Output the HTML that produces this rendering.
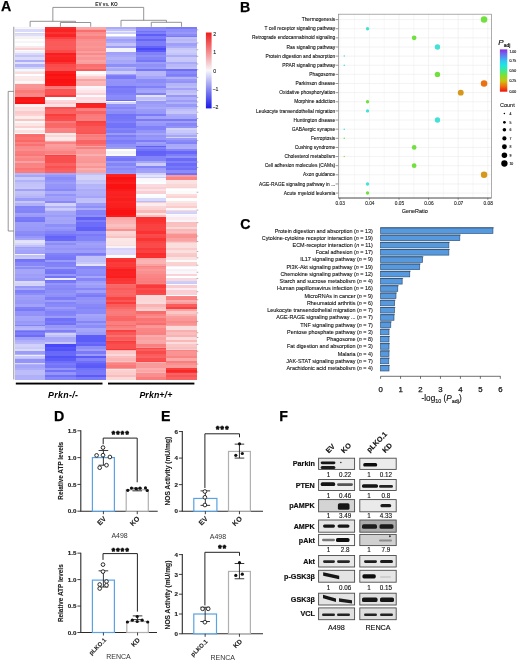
<!DOCTYPE html>
<html><head><meta charset="utf-8"><title>Figure</title>
<style>html,body{margin:0;padding:0;background:#fff;}body{width:520px;height:663px;overflow:hidden;}svg{display:block;filter:blur(0.3px);}</style>
</head><body><svg width="520" height="663" viewBox="0 0 520 663" font-family="'Liberation Sans', Arial, Helvetica, sans-serif"><g shape-rendering="crispEdges"><rect x="15.00" y="26.80" width="30.33" height="1.25" fill="rgb(246,246,250)"/><rect x="15.00" y="28.00" width="30.33" height="1.20" fill="rgb(249,249,250)"/><rect x="15.00" y="29.15" width="30.33" height="2.40" fill="rgb(218,218,250)"/><rect x="15.00" y="31.50" width="30.33" height="1.55" fill="rgb(254,254,250)"/><rect x="15.00" y="33.00" width="30.33" height="0.90" fill="rgb(212,212,249)"/><rect x="15.00" y="33.85" width="30.33" height="2.40" fill="rgb(222,222,249)"/><rect x="15.00" y="36.21" width="30.33" height="0.44" fill="rgb(241,241,249)"/><rect x="15.00" y="36.60" width="30.33" height="2.01" fill="rgb(250,239,241)"/><rect x="15.00" y="38.56" width="30.33" height="2.40" fill="rgb(250,255,255)"/><rect x="15.00" y="40.91" width="30.33" height="2.40" fill="rgb(250,244,246)"/><rect x="15.00" y="43.26" width="30.33" height="2.29" fill="rgb(250,255,255)"/><rect x="15.00" y="45.50" width="30.33" height="0.16" fill="rgb(250,253,255)"/><rect x="15.00" y="45.61" width="30.33" height="2.40" fill="rgb(250,232,234)"/><rect x="15.00" y="47.96" width="30.33" height="2.40" fill="rgb(250,207,209)"/><rect x="15.00" y="50.31" width="30.33" height="0.54" fill="rgb(250,251,253)"/><rect x="15.00" y="50.80" width="30.33" height="1.91" fill="rgb(241,241,249)"/><rect x="15.00" y="52.66" width="30.33" height="2.40" fill="rgb(217,217,249)"/><rect x="15.00" y="55.02" width="30.33" height="2.40" fill="rgb(197,197,249)"/><rect x="15.00" y="57.37" width="30.33" height="2.28" fill="rgb(220,220,249)"/><rect x="15.00" y="59.60" width="30.33" height="0.17" fill="rgb(205,205,249)"/><rect x="15.00" y="59.72" width="30.33" height="2.40" fill="rgb(172,172,249)"/><rect x="15.00" y="62.07" width="30.33" height="2.40" fill="rgb(225,225,249)"/><rect x="15.00" y="64.42" width="30.33" height="2.40" fill="rgb(179,179,249)"/><rect x="15.00" y="66.77" width="30.33" height="2.40" fill="rgb(211,211,249)"/><rect x="15.00" y="69.12" width="30.33" height="0.33" fill="rgb(220,220,249)"/><rect x="15.00" y="69.40" width="30.33" height="2.13" fill="rgb(248,248,249)"/><rect x="15.00" y="71.48" width="30.33" height="0.57" fill="rgb(236,236,249)"/><rect x="15.00" y="72.00" width="30.33" height="1.88" fill="rgb(252,219,219)"/><rect x="15.00" y="73.83" width="30.33" height="2.40" fill="rgb(252,255,255)"/><rect x="15.00" y="76.18" width="30.33" height="2.40" fill="rgb(252,234,234)"/><rect x="15.00" y="78.53" width="30.33" height="2.40" fill="rgb(252,231,231)"/><rect x="15.00" y="80.88" width="30.33" height="2.40" fill="rgb(252,248,248)"/><rect x="15.00" y="83.23" width="30.33" height="1.22" fill="rgb(252,236,236)"/><rect x="15.00" y="84.40" width="30.33" height="1.23" fill="rgb(250,149,149)"/><rect x="15.00" y="85.58" width="30.33" height="2.40" fill="rgb(250,149,149)"/><rect x="15.00" y="87.93" width="30.33" height="2.40" fill="rgb(250,143,143)"/><rect x="15.00" y="90.29" width="30.33" height="2.40" fill="rgb(250,121,121)"/><rect x="15.00" y="92.64" width="30.33" height="2.40" fill="rgb(250,133,133)"/><rect x="15.00" y="94.99" width="30.33" height="1.66" fill="rgb(250,138,138)"/><rect x="15.00" y="96.60" width="30.33" height="0.79" fill="rgb(250,17,17)"/><rect x="15.00" y="97.34" width="30.33" height="2.40" fill="rgb(250,21,21)"/><rect x="15.00" y="99.69" width="30.33" height="2.40" fill="rgb(250,25,25)"/><rect x="15.00" y="102.04" width="30.33" height="1.71" fill="rgb(250,17,17)"/><rect x="15.00" y="103.70" width="30.33" height="0.74" fill="rgb(252,212,212)"/><rect x="15.00" y="104.39" width="30.33" height="2.40" fill="rgb(252,240,240)"/><rect x="15.00" y="106.75" width="30.33" height="2.40" fill="rgb(252,220,220)"/><rect x="15.00" y="109.10" width="30.33" height="2.40" fill="rgb(252,223,223)"/><rect x="15.00" y="111.45" width="30.33" height="2.40" fill="rgb(252,202,202)"/><rect x="15.00" y="113.80" width="30.33" height="2.40" fill="rgb(252,210,210)"/><rect x="15.00" y="116.15" width="30.33" height="2.40" fill="rgb(252,237,237)"/><rect x="15.00" y="118.50" width="30.33" height="2.40" fill="rgb(252,195,195)"/><rect x="15.00" y="120.85" width="30.33" height="2.40" fill="rgb(252,248,248)"/><rect x="15.00" y="123.20" width="30.33" height="2.40" fill="rgb(252,230,230)"/><rect x="15.00" y="125.56" width="30.33" height="2.40" fill="rgb(252,209,209)"/><rect x="15.00" y="127.91" width="30.33" height="2.40" fill="rgb(252,246,246)"/><rect x="15.00" y="130.26" width="30.33" height="2.40" fill="rgb(252,225,225)"/><rect x="15.00" y="132.61" width="30.33" height="1.24" fill="rgb(252,253,253)"/><rect x="15.00" y="133.80" width="30.33" height="1.21" fill="rgb(250,112,112)"/><rect x="15.00" y="134.96" width="30.33" height="2.40" fill="rgb(250,108,108)"/><rect x="15.00" y="137.31" width="30.33" height="2.40" fill="rgb(250,116,116)"/><rect x="15.00" y="139.66" width="30.33" height="2.40" fill="rgb(250,103,103)"/><rect x="15.00" y="142.02" width="30.33" height="2.40" fill="rgb(250,128,128)"/><rect x="15.00" y="144.37" width="30.33" height="1.68" fill="rgb(250,111,111)"/><rect x="15.00" y="146.00" width="30.33" height="0.77" fill="rgb(250,135,135)"/><rect x="15.00" y="146.72" width="30.33" height="2.40" fill="rgb(250,136,136)"/><rect x="15.00" y="149.07" width="30.33" height="2.40" fill="rgb(250,142,142)"/><rect x="15.00" y="151.42" width="30.33" height="2.40" fill="rgb(250,124,124)"/><rect x="15.00" y="153.77" width="30.33" height="2.40" fill="rgb(250,119,119)"/><rect x="15.00" y="156.12" width="30.33" height="2.40" fill="rgb(250,141,141)"/><rect x="15.00" y="158.47" width="30.33" height="2.40" fill="rgb(250,132,132)"/><rect x="15.00" y="160.83" width="30.33" height="2.40" fill="rgb(250,160,160)"/><rect x="15.00" y="163.18" width="30.33" height="2.40" fill="rgb(250,130,130)"/><rect x="15.00" y="165.53" width="30.33" height="2.40" fill="rgb(250,133,133)"/><rect x="15.00" y="167.88" width="30.33" height="2.40" fill="rgb(250,116,116)"/><rect x="15.00" y="170.23" width="30.33" height="2.40" fill="rgb(250,124,124)"/><rect x="15.00" y="172.58" width="30.33" height="0.87" fill="rgb(250,150,150)"/><rect x="15.00" y="173.40" width="30.33" height="1.58" fill="rgb(181,181,249)"/><rect x="15.00" y="174.93" width="30.33" height="2.40" fill="rgb(166,166,249)"/><rect x="15.00" y="177.29" width="30.33" height="2.40" fill="rgb(200,200,249)"/><rect x="15.00" y="179.64" width="30.33" height="2.40" fill="rgb(177,177,249)"/><rect x="15.00" y="181.99" width="30.33" height="2.40" fill="rgb(192,192,249)"/><rect x="15.00" y="184.34" width="30.33" height="2.40" fill="rgb(195,195,249)"/><rect x="15.00" y="186.69" width="30.33" height="2.40" fill="rgb(198,198,249)"/><rect x="15.00" y="189.04" width="30.33" height="2.40" fill="rgb(160,160,249)"/><rect x="15.00" y="191.39" width="30.33" height="2.40" fill="rgb(194,194,249)"/><rect x="15.00" y="193.74" width="30.33" height="2.40" fill="rgb(188,188,249)"/><rect x="15.00" y="196.10" width="30.33" height="2.40" fill="rgb(180,180,249)"/><rect x="15.00" y="198.45" width="30.33" height="2.40" fill="rgb(155,155,249)"/><rect x="15.00" y="200.80" width="30.33" height="2.40" fill="rgb(197,197,249)"/><rect x="15.00" y="203.15" width="30.33" height="2.40" fill="rgb(177,177,249)"/><rect x="15.00" y="205.50" width="30.33" height="0.55" fill="rgb(172,172,249)"/><rect x="15.00" y="206.00" width="30.33" height="1.90" fill="rgb(131,131,249)"/><rect x="15.00" y="207.85" width="30.33" height="2.40" fill="rgb(134,134,249)"/><rect x="15.00" y="210.20" width="30.33" height="2.40" fill="rgb(132,132,249)"/><rect x="15.00" y="212.56" width="30.33" height="2.40" fill="rgb(160,160,249)"/><rect x="15.00" y="214.91" width="30.33" height="1.74" fill="rgb(154,154,249)"/><rect x="15.00" y="216.60" width="30.33" height="0.71" fill="rgb(146,146,249)"/><rect x="15.00" y="217.26" width="30.33" height="2.40" fill="rgb(121,121,249)"/><rect x="15.00" y="219.61" width="30.33" height="2.40" fill="rgb(118,118,249)"/><rect x="15.00" y="221.96" width="30.33" height="2.40" fill="rgb(156,156,249)"/><rect x="15.00" y="224.31" width="30.33" height="2.40" fill="rgb(155,155,249)"/><rect x="15.00" y="226.66" width="30.33" height="2.40" fill="rgb(152,152,249)"/><rect x="15.00" y="229.01" width="30.33" height="2.40" fill="rgb(152,152,249)"/><rect x="15.00" y="231.37" width="30.33" height="2.40" fill="rgb(140,140,249)"/><rect x="15.00" y="233.72" width="30.33" height="2.40" fill="rgb(135,135,249)"/><rect x="15.00" y="236.07" width="30.33" height="2.40" fill="rgb(151,151,249)"/><rect x="15.00" y="238.42" width="30.33" height="1.23" fill="rgb(163,163,249)"/><rect x="15.00" y="239.60" width="30.33" height="1.22" fill="rgb(224,224,250)"/><rect x="15.00" y="240.77" width="30.33" height="2.40" fill="rgb(227,227,250)"/><rect x="15.00" y="243.12" width="30.33" height="2.40" fill="rgb(215,215,250)"/><rect x="15.00" y="245.47" width="30.33" height="1.28" fill="rgb(192,192,250)"/><rect x="15.00" y="246.70" width="30.33" height="1.18" fill="rgb(160,160,249)"/><rect x="15.00" y="247.83" width="30.33" height="2.40" fill="rgb(169,169,249)"/><rect x="15.00" y="250.18" width="30.33" height="2.40" fill="rgb(163,163,249)"/><rect x="15.00" y="252.53" width="30.33" height="1.32" fill="rgb(160,160,249)"/><rect x="15.00" y="253.80" width="30.33" height="1.13" fill="rgb(241,241,250)"/><rect x="15.00" y="254.88" width="30.33" height="2.40" fill="rgb(191,191,250)"/><rect x="15.00" y="257.23" width="30.33" height="1.82" fill="rgb(198,198,250)"/><rect x="15.00" y="259.00" width="30.33" height="0.63" fill="rgb(113,113,249)"/><rect x="15.00" y="259.58" width="30.33" height="2.40" fill="rgb(116,116,249)"/><rect x="15.00" y="261.93" width="30.33" height="2.40" fill="rgb(134,134,249)"/><rect x="15.00" y="264.28" width="30.33" height="1.77" fill="rgb(134,134,249)"/><rect x="15.00" y="266.00" width="30.33" height="0.69" fill="rgb(163,163,249)"/><rect x="15.00" y="266.64" width="30.33" height="2.40" fill="rgb(138,138,249)"/><rect x="15.00" y="268.99" width="30.33" height="2.40" fill="rgb(165,165,249)"/><rect x="15.00" y="271.34" width="30.33" height="2.40" fill="rgb(165,165,249)"/><rect x="15.00" y="273.69" width="30.33" height="2.40" fill="rgb(158,158,249)"/><rect x="15.00" y="276.04" width="30.33" height="2.40" fill="rgb(161,161,249)"/><rect x="15.00" y="278.39" width="30.33" height="2.40" fill="rgb(152,152,249)"/><rect x="15.00" y="280.74" width="30.33" height="0.31" fill="rgb(166,166,249)"/><rect x="15.00" y="281.00" width="30.33" height="2.15" fill="rgb(217,217,249)"/><rect x="15.00" y="283.10" width="30.33" height="2.40" fill="rgb(209,209,249)"/><rect x="15.00" y="285.45" width="30.33" height="0.10" fill="rgb(212,212,249)"/><rect x="15.00" y="285.50" width="30.33" height="2.35" fill="rgb(151,151,249)"/><rect x="15.00" y="287.80" width="30.33" height="2.40" fill="rgb(167,167,249)"/><rect x="15.00" y="290.15" width="30.33" height="2.40" fill="rgb(127,127,249)"/><rect x="15.00" y="292.50" width="30.33" height="2.40" fill="rgb(139,139,249)"/><rect x="15.00" y="294.85" width="30.33" height="2.40" fill="rgb(161,161,249)"/><rect x="15.00" y="297.20" width="30.33" height="2.40" fill="rgb(156,156,249)"/><rect x="15.00" y="299.55" width="30.33" height="2.40" fill="rgb(152,152,249)"/><rect x="15.00" y="301.91" width="30.33" height="2.40" fill="rgb(151,151,249)"/><rect x="15.00" y="304.26" width="30.33" height="2.40" fill="rgb(162,162,249)"/><rect x="15.00" y="306.61" width="30.33" height="2.40" fill="rgb(128,128,249)"/><rect x="15.00" y="308.96" width="30.33" height="2.40" fill="rgb(121,121,249)"/><rect x="15.00" y="311.31" width="30.33" height="2.40" fill="rgb(146,146,249)"/><rect x="15.00" y="313.66" width="30.33" height="2.40" fill="rgb(145,145,249)"/><rect x="15.00" y="316.01" width="30.33" height="2.40" fill="rgb(164,164,249)"/><rect x="15.00" y="318.37" width="30.33" height="2.40" fill="rgb(163,163,249)"/><rect x="15.00" y="320.72" width="30.33" height="2.40" fill="rgb(152,152,249)"/><rect x="15.00" y="323.07" width="30.33" height="2.40" fill="rgb(156,156,249)"/><rect x="15.00" y="325.42" width="30.33" height="0.63" fill="rgb(129,129,249)"/><rect x="15.00" y="326.00" width="30.33" height="1.82" fill="rgb(177,177,249)"/><rect x="15.00" y="327.77" width="30.33" height="2.40" fill="rgb(183,183,249)"/><rect x="15.00" y="330.12" width="30.33" height="1.23" fill="rgb(137,137,249)"/><rect x="15.00" y="331.30" width="30.33" height="1.22" fill="rgb(108,108,249)"/><rect x="15.00" y="332.47" width="30.33" height="2.40" fill="rgb(124,124,249)"/><rect x="15.00" y="334.82" width="30.33" height="1.83" fill="rgb(108,108,249)"/><rect x="15.00" y="336.60" width="30.33" height="0.63" fill="rgb(183,183,249)"/><rect x="15.00" y="337.18" width="30.33" height="2.40" fill="rgb(158,158,249)"/><rect x="15.00" y="339.53" width="30.33" height="0.52" fill="rgb(135,135,249)"/><rect x="15.00" y="340.00" width="30.33" height="1.93" fill="rgb(174,174,250)"/><rect x="15.00" y="341.88" width="30.33" height="2.40" fill="rgb(183,183,250)"/><rect x="15.00" y="344.23" width="30.33" height="2.40" fill="rgb(208,208,250)"/><rect x="15.00" y="346.58" width="30.33" height="2.40" fill="rgb(202,202,250)"/><rect x="15.00" y="348.93" width="30.33" height="0.12" fill="rgb(213,213,250)"/><rect x="15.00" y="349.00" width="30.33" height="1.55" fill="rgb(217,217,252)"/><rect x="15.00" y="350.50" width="30.33" height="0.83" fill="rgb(168,168,249)"/><rect x="15.00" y="351.28" width="30.33" height="2.40" fill="rgb(155,155,249)"/><rect x="15.00" y="353.64" width="30.33" height="1.41" fill="rgb(178,178,249)"/><rect x="15.00" y="355.00" width="30.33" height="1.04" fill="rgb(236,236,250)"/><rect x="15.00" y="355.99" width="30.33" height="2.40" fill="rgb(201,201,250)"/><rect x="15.00" y="358.34" width="30.33" height="0.71" fill="rgb(190,190,250)"/><rect x="15.00" y="359.00" width="30.33" height="1.74" fill="rgb(146,146,249)"/><rect x="15.00" y="360.69" width="30.33" height="1.86" fill="rgb(149,149,249)"/><rect x="15.00" y="362.50" width="30.33" height="0.59" fill="rgb(210,210,252)"/><rect x="15.00" y="363.04" width="30.33" height="0.61" fill="rgb(215,215,252)"/><rect x="15.00" y="363.60" width="30.33" height="1.84" fill="rgb(178,178,249)"/><rect x="15.00" y="365.39" width="30.33" height="2.40" fill="rgb(164,164,249)"/><rect x="15.00" y="367.74" width="30.33" height="2.40" fill="rgb(172,172,249)"/><rect x="15.00" y="370.09" width="30.33" height="2.40" fill="rgb(189,189,249)"/><rect x="15.00" y="372.45" width="30.33" height="2.40" fill="rgb(189,189,249)"/><rect x="15.00" y="374.80" width="30.33" height="2.40" fill="rgb(176,176,249)"/><rect x="15.00" y="377.15" width="30.33" height="2.40" fill="rgb(177,177,249)"/><rect x="45.28" y="26.80" width="30.33" height="2.40" fill="rgb(250,43,43)"/><rect x="45.28" y="29.15" width="30.33" height="2.40" fill="rgb(250,35,35)"/><rect x="45.28" y="31.50" width="30.33" height="2.40" fill="rgb(250,51,51)"/><rect x="45.28" y="33.85" width="30.33" height="2.40" fill="rgb(250,36,36)"/><rect x="45.28" y="36.21" width="30.33" height="0.44" fill="rgb(250,34,34)"/><rect x="45.28" y="36.60" width="30.33" height="2.01" fill="rgb(250,63,63)"/><rect x="45.28" y="38.56" width="30.33" height="2.40" fill="rgb(250,84,84)"/><rect x="45.28" y="40.91" width="30.33" height="2.40" fill="rgb(250,90,90)"/><rect x="45.28" y="43.26" width="30.33" height="2.40" fill="rgb(250,90,90)"/><rect x="45.28" y="45.61" width="30.33" height="2.40" fill="rgb(250,91,91)"/><rect x="45.28" y="47.96" width="30.33" height="2.40" fill="rgb(250,90,90)"/><rect x="45.28" y="50.31" width="30.33" height="2.24" fill="rgb(250,75,75)"/><rect x="45.28" y="52.50" width="30.33" height="0.21" fill="rgb(250,28,28)"/><rect x="45.28" y="52.66" width="30.33" height="2.40" fill="rgb(250,29,29)"/><rect x="45.28" y="55.02" width="30.33" height="2.40" fill="rgb(250,40,40)"/><rect x="45.28" y="57.37" width="30.33" height="2.40" fill="rgb(250,35,35)"/><rect x="45.28" y="59.72" width="30.33" height="2.40" fill="rgb(250,31,31)"/><rect x="45.28" y="62.07" width="30.33" height="1.98" fill="rgb(250,52,52)"/><rect x="45.28" y="64.00" width="30.33" height="0.47" fill="rgb(250,83,83)"/><rect x="45.28" y="64.42" width="30.33" height="2.40" fill="rgb(250,74,74)"/><rect x="45.28" y="66.77" width="30.33" height="2.40" fill="rgb(250,79,79)"/><rect x="45.28" y="69.12" width="30.33" height="1.93" fill="rgb(250,80,80)"/><rect x="45.28" y="71.00" width="30.33" height="0.53" fill="rgb(250,20,20)"/><rect x="45.28" y="71.48" width="30.33" height="2.40" fill="rgb(250,28,28)"/><rect x="45.28" y="73.83" width="30.33" height="2.40" fill="rgb(250,17,17)"/><rect x="45.28" y="76.18" width="30.33" height="2.40" fill="rgb(250,24,24)"/><rect x="45.28" y="78.53" width="30.33" height="2.40" fill="rgb(250,17,17)"/><rect x="45.28" y="80.88" width="30.33" height="2.40" fill="rgb(250,17,17)"/><rect x="45.28" y="83.23" width="30.33" height="2.40" fill="rgb(250,22,22)"/><rect x="45.28" y="85.58" width="30.33" height="0.47" fill="rgb(250,22,22)"/><rect x="45.28" y="86.00" width="30.33" height="1.98" fill="rgb(250,119,119)"/><rect x="45.28" y="87.93" width="30.33" height="0.72" fill="rgb(250,129,129)"/><rect x="45.28" y="88.60" width="30.33" height="1.74" fill="rgb(250,81,81)"/><rect x="45.28" y="90.29" width="30.33" height="2.40" fill="rgb(250,83,83)"/><rect x="45.28" y="92.64" width="30.33" height="2.40" fill="rgb(250,82,82)"/><rect x="45.28" y="94.99" width="30.33" height="1.66" fill="rgb(250,55,55)"/><rect x="45.28" y="96.60" width="30.33" height="0.79" fill="rgb(252,215,220)"/><rect x="45.28" y="97.34" width="30.33" height="2.40" fill="rgb(252,255,255)"/><rect x="45.28" y="99.69" width="30.33" height="2.40" fill="rgb(252,214,219)"/><rect x="45.28" y="102.04" width="30.33" height="2.40" fill="rgb(252,204,209)"/><rect x="45.28" y="104.39" width="30.33" height="2.40" fill="rgb(252,225,230)"/><rect x="45.28" y="106.75" width="30.33" height="0.50" fill="rgb(252,244,249)"/><rect x="45.28" y="107.20" width="30.33" height="1.95" fill="rgb(250,78,78)"/><rect x="45.28" y="109.10" width="30.33" height="2.40" fill="rgb(250,93,93)"/><rect x="45.28" y="111.45" width="30.33" height="2.40" fill="rgb(250,97,97)"/><rect x="45.28" y="113.80" width="30.33" height="2.40" fill="rgb(250,62,62)"/><rect x="45.28" y="116.15" width="30.33" height="2.40" fill="rgb(250,74,74)"/><rect x="45.28" y="118.50" width="30.33" height="2.40" fill="rgb(250,79,79)"/><rect x="45.28" y="120.85" width="30.33" height="0.60" fill="rgb(250,64,64)"/><rect x="45.28" y="121.40" width="30.33" height="1.85" fill="rgb(250,122,122)"/><rect x="45.28" y="123.20" width="30.33" height="2.40" fill="rgb(250,103,103)"/><rect x="45.28" y="125.56" width="30.33" height="2.40" fill="rgb(250,105,105)"/><rect x="45.28" y="127.91" width="30.33" height="2.40" fill="rgb(250,132,132)"/><rect x="45.28" y="130.26" width="30.33" height="2.40" fill="rgb(250,130,130)"/><rect x="45.28" y="132.61" width="30.33" height="0.44" fill="rgb(250,129,129)"/><rect x="45.28" y="133.00" width="30.33" height="2.01" fill="rgb(250,235,235)"/><rect x="45.28" y="134.96" width="30.33" height="2.40" fill="rgb(250,214,214)"/><rect x="45.28" y="137.31" width="30.33" height="2.40" fill="rgb(250,234,234)"/><rect x="45.28" y="139.66" width="30.33" height="1.39" fill="rgb(250,224,224)"/><rect x="45.28" y="141.00" width="30.33" height="1.07" fill="rgb(250,167,167)"/><rect x="45.28" y="142.02" width="30.33" height="2.40" fill="rgb(250,130,130)"/><rect x="45.28" y="144.37" width="30.33" height="2.40" fill="rgb(250,157,157)"/><rect x="45.28" y="146.72" width="30.33" height="2.40" fill="rgb(250,152,152)"/><rect x="45.28" y="149.07" width="30.33" height="2.40" fill="rgb(250,145,145)"/><rect x="45.28" y="151.42" width="30.33" height="2.40" fill="rgb(250,130,130)"/><rect x="45.28" y="153.77" width="30.33" height="1.28" fill="rgb(250,153,153)"/><rect x="45.28" y="155.00" width="30.33" height="1.17" fill="rgb(250,64,64)"/><rect x="45.28" y="156.12" width="30.33" height="2.40" fill="rgb(250,79,79)"/><rect x="45.28" y="158.47" width="30.33" height="2.40" fill="rgb(250,78,78)"/><rect x="45.28" y="160.83" width="30.33" height="2.40" fill="rgb(250,79,79)"/><rect x="45.28" y="163.18" width="30.33" height="2.40" fill="rgb(250,97,97)"/><rect x="45.28" y="165.53" width="30.33" height="2.40" fill="rgb(250,82,82)"/><rect x="45.28" y="167.88" width="30.33" height="2.40" fill="rgb(250,91,91)"/><rect x="45.28" y="170.23" width="30.33" height="2.40" fill="rgb(250,98,98)"/><rect x="45.28" y="172.58" width="30.33" height="0.47" fill="rgb(250,69,69)"/><rect x="45.28" y="173.00" width="30.33" height="1.98" fill="rgb(165,165,249)"/><rect x="45.28" y="174.93" width="30.33" height="2.40" fill="rgb(151,151,249)"/><rect x="45.28" y="177.29" width="30.33" height="2.40" fill="rgb(139,139,249)"/><rect x="45.28" y="179.64" width="30.33" height="2.40" fill="rgb(147,147,249)"/><rect x="45.28" y="181.99" width="30.33" height="2.40" fill="rgb(158,158,249)"/><rect x="45.28" y="184.34" width="30.33" height="2.40" fill="rgb(149,149,249)"/><rect x="45.28" y="186.69" width="30.33" height="2.40" fill="rgb(147,147,249)"/><rect x="45.28" y="189.04" width="30.33" height="2.40" fill="rgb(136,136,249)"/><rect x="45.28" y="191.39" width="30.33" height="2.40" fill="rgb(169,169,249)"/><rect x="45.28" y="193.74" width="30.33" height="2.40" fill="rgb(147,147,249)"/><rect x="45.28" y="196.10" width="30.33" height="2.40" fill="rgb(162,162,249)"/><rect x="45.28" y="198.45" width="30.33" height="2.40" fill="rgb(160,160,249)"/><rect x="45.28" y="200.80" width="30.33" height="1.85" fill="rgb(136,136,249)"/><rect x="45.28" y="202.60" width="30.33" height="0.60" fill="rgb(214,214,250)"/><rect x="45.28" y="203.15" width="30.33" height="2.40" fill="rgb(211,211,250)"/><rect x="45.28" y="205.50" width="30.33" height="0.55" fill="rgb(199,199,250)"/><rect x="45.28" y="206.00" width="30.33" height="1.90" fill="rgb(176,176,249)"/><rect x="45.28" y="207.85" width="30.33" height="2.40" fill="rgb(203,203,249)"/><rect x="45.28" y="210.20" width="30.33" height="1.15" fill="rgb(193,193,249)"/><rect x="45.28" y="211.30" width="30.33" height="1.31" fill="rgb(164,164,249)"/><rect x="45.28" y="212.56" width="30.33" height="2.40" fill="rgb(164,164,249)"/><rect x="45.28" y="214.91" width="30.33" height="2.40" fill="rgb(155,155,249)"/><rect x="45.28" y="217.26" width="30.33" height="2.40" fill="rgb(167,167,249)"/><rect x="45.28" y="219.61" width="30.33" height="2.40" fill="rgb(163,163,249)"/><rect x="45.28" y="221.96" width="30.33" height="2.40" fill="rgb(166,166,249)"/><rect x="45.28" y="224.31" width="30.33" height="2.40" fill="rgb(142,142,249)"/><rect x="45.28" y="226.66" width="30.33" height="2.40" fill="rgb(154,154,249)"/><rect x="45.28" y="229.01" width="30.33" height="1.84" fill="rgb(145,145,249)"/><rect x="45.28" y="230.80" width="30.33" height="0.62" fill="rgb(100,100,249)"/><rect x="45.28" y="231.37" width="30.33" height="2.40" fill="rgb(130,130,249)"/><rect x="45.28" y="233.72" width="30.33" height="2.40" fill="rgb(117,117,249)"/><rect x="45.28" y="236.07" width="30.33" height="2.40" fill="rgb(100,100,249)"/><rect x="45.28" y="238.42" width="30.33" height="2.40" fill="rgb(105,105,249)"/><rect x="45.28" y="240.77" width="30.33" height="0.68" fill="rgb(135,135,249)"/><rect x="45.28" y="241.40" width="30.33" height="1.77" fill="rgb(155,155,249)"/><rect x="45.28" y="243.12" width="30.33" height="2.40" fill="rgb(140,140,249)"/><rect x="45.28" y="245.47" width="30.33" height="2.40" fill="rgb(157,157,249)"/><rect x="45.28" y="247.83" width="30.33" height="2.40" fill="rgb(150,150,249)"/><rect x="45.28" y="250.18" width="30.33" height="2.40" fill="rgb(157,157,249)"/><rect x="45.28" y="252.53" width="30.33" height="2.40" fill="rgb(130,130,249)"/><rect x="45.28" y="254.88" width="30.33" height="2.40" fill="rgb(124,124,249)"/><rect x="45.28" y="257.23" width="30.33" height="2.40" fill="rgb(119,119,249)"/><rect x="45.28" y="259.58" width="30.33" height="2.40" fill="rgb(154,154,249)"/><rect x="45.28" y="261.93" width="30.33" height="2.40" fill="rgb(127,127,249)"/><rect x="45.28" y="264.28" width="30.33" height="2.40" fill="rgb(130,130,249)"/><rect x="45.28" y="266.64" width="30.33" height="2.40" fill="rgb(154,154,249)"/><rect x="45.28" y="268.99" width="30.33" height="2.40" fill="rgb(120,120,249)"/><rect x="45.28" y="271.34" width="30.33" height="2.40" fill="rgb(116,116,249)"/><rect x="45.28" y="273.69" width="30.33" height="2.40" fill="rgb(151,151,249)"/><rect x="45.28" y="276.04" width="30.33" height="2.01" fill="rgb(116,116,249)"/><rect x="45.28" y="278.00" width="30.33" height="0.44" fill="rgb(241,241,252)"/><rect x="45.28" y="278.39" width="30.33" height="1.66" fill="rgb(235,235,252)"/><rect x="45.28" y="280.00" width="30.33" height="0.79" fill="rgb(112,112,249)"/><rect x="45.28" y="280.74" width="30.33" height="2.40" fill="rgb(119,119,249)"/><rect x="45.28" y="283.10" width="30.33" height="2.40" fill="rgb(150,150,249)"/><rect x="45.28" y="285.45" width="30.33" height="2.40" fill="rgb(138,138,249)"/><rect x="45.28" y="287.80" width="30.33" height="2.40" fill="rgb(134,134,249)"/><rect x="45.28" y="290.15" width="30.33" height="2.40" fill="rgb(142,142,249)"/><rect x="45.28" y="292.50" width="30.33" height="2.40" fill="rgb(149,149,249)"/><rect x="45.28" y="294.85" width="30.33" height="2.40" fill="rgb(143,143,249)"/><rect x="45.28" y="297.20" width="30.33" height="2.40" fill="rgb(124,124,249)"/><rect x="45.28" y="299.55" width="30.33" height="2.40" fill="rgb(157,157,249)"/><rect x="45.28" y="301.91" width="30.33" height="2.40" fill="rgb(132,132,249)"/><rect x="45.28" y="304.26" width="30.33" height="2.40" fill="rgb(137,137,249)"/><rect x="45.28" y="306.61" width="30.33" height="2.40" fill="rgb(157,157,249)"/><rect x="45.28" y="308.96" width="30.33" height="2.40" fill="rgb(142,142,249)"/><rect x="45.28" y="311.31" width="30.33" height="2.40" fill="rgb(129,129,249)"/><rect x="45.28" y="313.66" width="30.33" height="2.40" fill="rgb(134,134,249)"/><rect x="45.28" y="316.01" width="30.33" height="2.40" fill="rgb(155,155,249)"/><rect x="45.28" y="318.37" width="30.33" height="2.40" fill="rgb(112,112,249)"/><rect x="45.28" y="320.72" width="30.33" height="2.40" fill="rgb(121,121,249)"/><rect x="45.28" y="323.07" width="30.33" height="2.40" fill="rgb(113,113,249)"/><rect x="45.28" y="325.42" width="30.33" height="0.63" fill="rgb(153,153,249)"/><rect x="45.28" y="326.00" width="30.33" height="1.82" fill="rgb(150,150,249)"/><rect x="45.28" y="327.77" width="30.33" height="2.40" fill="rgb(161,161,249)"/><rect x="45.28" y="330.12" width="30.33" height="2.40" fill="rgb(126,126,249)"/><rect x="45.28" y="332.47" width="30.33" height="0.58" fill="rgb(150,150,249)"/><rect x="45.28" y="333.00" width="30.33" height="1.87" fill="rgb(208,208,249)"/><rect x="45.28" y="334.82" width="30.33" height="2.40" fill="rgb(192,192,249)"/><rect x="45.28" y="337.18" width="30.33" height="2.40" fill="rgb(165,165,249)"/><rect x="45.28" y="339.53" width="30.33" height="2.40" fill="rgb(170,170,249)"/><rect x="45.28" y="341.88" width="30.33" height="1.87" fill="rgb(201,201,249)"/><rect x="45.28" y="343.70" width="30.33" height="0.58" fill="rgb(103,103,249)"/><rect x="45.28" y="344.23" width="30.33" height="2.40" fill="rgb(73,73,249)"/><rect x="45.28" y="346.58" width="30.33" height="2.40" fill="rgb(87,87,249)"/><rect x="45.28" y="348.93" width="30.33" height="2.40" fill="rgb(82,82,249)"/><rect x="45.28" y="351.28" width="30.33" height="2.40" fill="rgb(105,105,249)"/><rect x="45.28" y="353.64" width="30.33" height="2.40" fill="rgb(106,106,249)"/><rect x="45.28" y="355.99" width="30.33" height="2.40" fill="rgb(82,82,249)"/><rect x="45.28" y="358.34" width="30.33" height="2.40" fill="rgb(92,92,249)"/><rect x="45.28" y="360.69" width="30.33" height="0.76" fill="rgb(106,106,249)"/><rect x="45.28" y="361.40" width="30.33" height="1.69" fill="rgb(110,110,249)"/><rect x="45.28" y="363.04" width="30.33" height="2.40" fill="rgb(123,123,249)"/><rect x="45.28" y="365.39" width="30.33" height="2.40" fill="rgb(116,116,249)"/><rect x="45.28" y="367.74" width="30.33" height="2.40" fill="rgb(148,148,249)"/><rect x="45.28" y="370.09" width="30.33" height="2.40" fill="rgb(113,113,249)"/><rect x="45.28" y="372.45" width="30.33" height="2.40" fill="rgb(149,149,249)"/><rect x="45.28" y="374.80" width="30.33" height="2.40" fill="rgb(113,113,249)"/><rect x="45.28" y="377.15" width="30.33" height="2.40" fill="rgb(132,132,249)"/><rect x="75.57" y="26.80" width="30.33" height="2.40" fill="rgb(250,168,168)"/><rect x="75.57" y="29.15" width="30.33" height="0.40" fill="rgb(250,157,157)"/><rect x="75.57" y="29.50" width="30.33" height="2.05" fill="rgb(250,110,110)"/><rect x="75.57" y="31.50" width="30.33" height="2.40" fill="rgb(250,140,140)"/><rect x="75.57" y="33.85" width="30.33" height="2.40" fill="rgb(250,146,146)"/><rect x="75.57" y="36.21" width="30.33" height="2.40" fill="rgb(250,128,128)"/><rect x="75.57" y="38.56" width="30.33" height="2.40" fill="rgb(250,141,141)"/><rect x="75.57" y="40.91" width="30.33" height="2.40" fill="rgb(250,147,147)"/><rect x="75.57" y="43.26" width="30.33" height="2.40" fill="rgb(250,145,145)"/><rect x="75.57" y="45.61" width="30.33" height="2.40" fill="rgb(250,150,150)"/><rect x="75.57" y="47.96" width="30.33" height="2.40" fill="rgb(250,143,143)"/><rect x="75.57" y="50.31" width="30.33" height="0.54" fill="rgb(250,138,138)"/><rect x="75.57" y="50.80" width="30.33" height="1.91" fill="rgb(250,159,159)"/><rect x="75.57" y="52.66" width="30.33" height="2.40" fill="rgb(250,137,137)"/><rect x="75.57" y="55.02" width="30.33" height="2.40" fill="rgb(250,160,160)"/><rect x="75.57" y="57.37" width="30.33" height="2.40" fill="rgb(250,149,149)"/><rect x="75.57" y="59.72" width="30.33" height="2.40" fill="rgb(250,165,165)"/><rect x="75.57" y="62.07" width="30.33" height="1.98" fill="rgb(250,157,157)"/><rect x="75.57" y="64.00" width="30.33" height="0.47" fill="rgb(250,119,119)"/><rect x="75.57" y="64.42" width="30.33" height="2.40" fill="rgb(250,110,110)"/><rect x="75.57" y="66.77" width="30.33" height="2.40" fill="rgb(250,119,119)"/><rect x="75.57" y="69.12" width="30.33" height="1.93" fill="rgb(250,90,90)"/><rect x="75.57" y="71.00" width="30.33" height="0.53" fill="rgb(255,231,231)"/><rect x="75.57" y="71.48" width="30.33" height="2.40" fill="rgb(255,254,254)"/><rect x="75.57" y="73.83" width="30.33" height="2.40" fill="rgb(255,236,236)"/><rect x="75.57" y="76.18" width="30.33" height="1.17" fill="rgb(255,207,207)"/><rect x="75.57" y="77.30" width="30.33" height="1.28" fill="rgb(250,201,201)"/><rect x="75.57" y="78.53" width="30.33" height="2.40" fill="rgb(250,162,162)"/><rect x="75.57" y="80.88" width="30.33" height="2.40" fill="rgb(250,183,183)"/><rect x="75.57" y="83.23" width="30.33" height="2.40" fill="rgb(250,180,180)"/><rect x="75.57" y="85.58" width="30.33" height="0.47" fill="rgb(250,162,162)"/><rect x="75.57" y="86.00" width="30.33" height="1.98" fill="rgb(252,246,251)"/><rect x="75.57" y="87.93" width="30.33" height="2.40" fill="rgb(252,239,244)"/><rect x="75.57" y="90.29" width="30.33" height="2.40" fill="rgb(252,228,233)"/><rect x="75.57" y="92.64" width="30.33" height="2.40" fill="rgb(252,209,214)"/><rect x="75.57" y="94.99" width="30.33" height="2.40" fill="rgb(252,250,255)"/><rect x="75.57" y="97.34" width="30.33" height="2.40" fill="rgb(252,218,223)"/><rect x="75.57" y="99.69" width="30.33" height="2.40" fill="rgb(252,226,231)"/><rect x="75.57" y="102.04" width="30.33" height="0.81" fill="rgb(252,231,236)"/><rect x="75.57" y="102.80" width="30.33" height="1.64" fill="rgb(250,32,32)"/><rect x="75.57" y="104.39" width="30.33" height="2.40" fill="rgb(250,34,34)"/><rect x="75.57" y="106.75" width="30.33" height="1.30" fill="rgb(250,42,42)"/><rect x="75.57" y="108.00" width="30.33" height="1.15" fill="rgb(250,125,125)"/><rect x="75.57" y="109.10" width="30.33" height="2.40" fill="rgb(250,127,127)"/><rect x="75.57" y="111.45" width="30.33" height="2.40" fill="rgb(250,99,99)"/><rect x="75.57" y="113.80" width="30.33" height="2.40" fill="rgb(250,120,120)"/><rect x="75.57" y="116.15" width="30.33" height="2.40" fill="rgb(250,124,124)"/><rect x="75.57" y="118.50" width="30.33" height="2.40" fill="rgb(250,127,127)"/><rect x="75.57" y="120.85" width="30.33" height="0.60" fill="rgb(250,95,95)"/><rect x="75.57" y="121.40" width="30.33" height="1.85" fill="rgb(250,66,66)"/><rect x="75.57" y="123.20" width="30.33" height="2.40" fill="rgb(250,73,73)"/><rect x="75.57" y="125.56" width="30.33" height="2.40" fill="rgb(250,88,88)"/><rect x="75.57" y="127.91" width="30.33" height="2.40" fill="rgb(250,89,89)"/><rect x="75.57" y="130.26" width="30.33" height="2.40" fill="rgb(250,87,87)"/><rect x="75.57" y="132.61" width="30.33" height="1.24" fill="rgb(250,81,81)"/><rect x="75.57" y="133.80" width="30.33" height="1.21" fill="rgb(250,134,134)"/><rect x="75.57" y="134.96" width="30.33" height="2.40" fill="rgb(250,122,122)"/><rect x="75.57" y="137.31" width="30.33" height="2.40" fill="rgb(250,130,130)"/><rect x="75.57" y="139.66" width="30.33" height="2.40" fill="rgb(250,99,99)"/><rect x="75.57" y="142.02" width="30.33" height="2.40" fill="rgb(250,99,99)"/><rect x="75.57" y="144.37" width="30.33" height="1.68" fill="rgb(250,117,117)"/><rect x="75.57" y="146.00" width="30.33" height="0.77" fill="rgb(250,162,162)"/><rect x="75.57" y="146.72" width="30.33" height="2.40" fill="rgb(250,127,127)"/><rect x="75.57" y="149.07" width="30.33" height="2.40" fill="rgb(250,159,159)"/><rect x="75.57" y="151.42" width="30.33" height="2.40" fill="rgb(250,156,156)"/><rect x="75.57" y="153.77" width="30.33" height="2.40" fill="rgb(250,174,174)"/><rect x="75.57" y="156.12" width="30.33" height="2.40" fill="rgb(250,155,155)"/><rect x="75.57" y="158.47" width="30.33" height="2.40" fill="rgb(250,151,151)"/><rect x="75.57" y="160.83" width="30.33" height="2.40" fill="rgb(250,149,149)"/><rect x="75.57" y="163.18" width="30.33" height="2.40" fill="rgb(250,164,164)"/><rect x="75.57" y="165.53" width="30.33" height="2.40" fill="rgb(250,149,149)"/><rect x="75.57" y="167.88" width="30.33" height="2.40" fill="rgb(250,174,174)"/><rect x="75.57" y="170.23" width="30.33" height="2.40" fill="rgb(250,161,161)"/><rect x="75.57" y="172.58" width="30.33" height="0.87" fill="rgb(250,169,169)"/><rect x="75.57" y="173.40" width="30.33" height="1.58" fill="rgb(190,190,249)"/><rect x="75.57" y="174.93" width="30.33" height="2.40" fill="rgb(209,209,249)"/><rect x="75.57" y="177.29" width="30.33" height="2.40" fill="rgb(211,211,249)"/><rect x="75.57" y="179.64" width="30.33" height="2.40" fill="rgb(195,195,249)"/><rect x="75.57" y="181.99" width="30.33" height="2.40" fill="rgb(199,199,249)"/><rect x="75.57" y="184.34" width="30.33" height="2.40" fill="rgb(180,180,249)"/><rect x="75.57" y="186.69" width="30.33" height="2.40" fill="rgb(183,183,249)"/><rect x="75.57" y="189.04" width="30.33" height="2.40" fill="rgb(171,171,249)"/><rect x="75.57" y="191.39" width="30.33" height="2.40" fill="rgb(176,176,249)"/><rect x="75.57" y="193.74" width="30.33" height="2.40" fill="rgb(173,173,249)"/><rect x="75.57" y="196.10" width="30.33" height="2.40" fill="rgb(164,164,249)"/><rect x="75.57" y="198.45" width="30.33" height="2.40" fill="rgb(191,191,249)"/><rect x="75.57" y="200.80" width="30.33" height="1.85" fill="rgb(194,194,249)"/><rect x="75.57" y="202.60" width="30.33" height="0.60" fill="rgb(117,117,249)"/><rect x="75.57" y="203.15" width="30.33" height="2.40" fill="rgb(156,156,249)"/><rect x="75.57" y="205.50" width="30.33" height="0.55" fill="rgb(129,129,249)"/><rect x="75.57" y="206.00" width="30.33" height="1.90" fill="rgb(143,143,249)"/><rect x="75.57" y="207.85" width="30.33" height="2.40" fill="rgb(172,172,249)"/><rect x="75.57" y="210.20" width="30.33" height="2.40" fill="rgb(133,133,249)"/><rect x="75.57" y="212.56" width="30.33" height="2.40" fill="rgb(130,130,249)"/><rect x="75.57" y="214.91" width="30.33" height="1.74" fill="rgb(143,143,249)"/><rect x="75.57" y="216.60" width="30.33" height="0.71" fill="rgb(100,100,249)"/><rect x="75.57" y="217.26" width="30.33" height="2.40" fill="rgb(96,96,249)"/><rect x="75.57" y="219.61" width="30.33" height="2.40" fill="rgb(125,125,249)"/><rect x="75.57" y="221.96" width="30.33" height="2.40" fill="rgb(109,109,249)"/><rect x="75.57" y="224.31" width="30.33" height="2.40" fill="rgb(109,109,249)"/><rect x="75.57" y="226.66" width="30.33" height="2.40" fill="rgb(96,96,249)"/><rect x="75.57" y="229.01" width="30.33" height="1.84" fill="rgb(97,97,249)"/><rect x="75.57" y="230.80" width="30.33" height="0.62" fill="rgb(124,124,249)"/><rect x="75.57" y="231.37" width="30.33" height="2.40" fill="rgb(136,136,249)"/><rect x="75.57" y="233.72" width="30.33" height="2.40" fill="rgb(121,121,249)"/><rect x="75.57" y="236.07" width="30.33" height="2.40" fill="rgb(131,131,249)"/><rect x="75.57" y="238.42" width="30.33" height="2.40" fill="rgb(130,130,249)"/><rect x="75.57" y="240.77" width="30.33" height="2.40" fill="rgb(152,152,249)"/><rect x="75.57" y="243.12" width="30.33" height="2.40" fill="rgb(161,161,249)"/><rect x="75.57" y="245.47" width="30.33" height="2.40" fill="rgb(157,157,249)"/><rect x="75.57" y="247.83" width="30.33" height="2.40" fill="rgb(146,146,249)"/><rect x="75.57" y="250.18" width="30.33" height="2.40" fill="rgb(158,158,249)"/><rect x="75.57" y="252.53" width="30.33" height="2.40" fill="rgb(124,124,249)"/><rect x="75.57" y="254.88" width="30.33" height="0.67" fill="rgb(137,137,249)"/><rect x="75.57" y="255.50" width="30.33" height="1.78" fill="rgb(192,192,249)"/><rect x="75.57" y="257.23" width="30.33" height="2.40" fill="rgb(192,192,249)"/><rect x="75.57" y="259.58" width="30.33" height="2.40" fill="rgb(189,189,249)"/><rect x="75.57" y="261.93" width="30.33" height="2.40" fill="rgb(200,200,249)"/><rect x="75.57" y="264.28" width="30.33" height="1.77" fill="rgb(228,228,249)"/><rect x="75.57" y="266.00" width="30.33" height="0.69" fill="rgb(130,130,249)"/><rect x="75.57" y="266.64" width="30.33" height="2.40" fill="rgb(133,133,249)"/><rect x="75.57" y="268.99" width="30.33" height="2.40" fill="rgb(144,144,249)"/><rect x="75.57" y="271.34" width="30.33" height="2.40" fill="rgb(143,143,249)"/><rect x="75.57" y="273.69" width="30.33" height="2.40" fill="rgb(137,137,249)"/><rect x="75.57" y="276.04" width="30.33" height="2.40" fill="rgb(165,165,249)"/><rect x="75.57" y="278.39" width="30.33" height="2.40" fill="rgb(133,133,249)"/><rect x="75.57" y="280.74" width="30.33" height="2.40" fill="rgb(156,156,249)"/><rect x="75.57" y="283.10" width="30.33" height="2.40" fill="rgb(165,165,249)"/><rect x="75.57" y="285.45" width="30.33" height="2.40" fill="rgb(156,156,249)"/><rect x="75.57" y="287.80" width="30.33" height="2.40" fill="rgb(134,134,249)"/><rect x="75.57" y="290.15" width="30.33" height="2.40" fill="rgb(159,159,249)"/><rect x="75.57" y="292.50" width="30.33" height="2.40" fill="rgb(133,133,249)"/><rect x="75.57" y="294.85" width="30.33" height="2.40" fill="rgb(122,122,249)"/><rect x="75.57" y="297.20" width="30.33" height="2.40" fill="rgb(145,145,249)"/><rect x="75.57" y="299.55" width="30.33" height="2.40" fill="rgb(150,150,249)"/><rect x="75.57" y="301.91" width="30.33" height="2.40" fill="rgb(146,146,249)"/><rect x="75.57" y="304.26" width="30.33" height="2.40" fill="rgb(136,136,249)"/><rect x="75.57" y="306.61" width="30.33" height="2.40" fill="rgb(132,132,249)"/><rect x="75.57" y="308.96" width="30.33" height="2.40" fill="rgb(139,139,249)"/><rect x="75.57" y="311.31" width="30.33" height="2.40" fill="rgb(138,138,249)"/><rect x="75.57" y="313.66" width="30.33" height="2.40" fill="rgb(165,165,249)"/><rect x="75.57" y="316.01" width="30.33" height="2.40" fill="rgb(161,161,249)"/><rect x="75.57" y="318.37" width="30.33" height="2.40" fill="rgb(156,156,249)"/><rect x="75.57" y="320.72" width="30.33" height="2.40" fill="rgb(133,133,249)"/><rect x="75.57" y="323.07" width="30.33" height="2.40" fill="rgb(154,154,249)"/><rect x="75.57" y="325.42" width="30.33" height="2.40" fill="rgb(141,141,249)"/><rect x="75.57" y="327.77" width="30.33" height="2.40" fill="rgb(168,168,249)"/><rect x="75.57" y="330.12" width="30.33" height="2.40" fill="rgb(165,165,249)"/><rect x="75.57" y="332.47" width="30.33" height="2.38" fill="rgb(156,156,249)"/><rect x="75.57" y="334.80" width="30.33" height="2.40" fill="rgb(93,93,249)"/><rect x="75.57" y="337.15" width="30.33" height="2.40" fill="rgb(92,92,249)"/><rect x="75.57" y="339.50" width="30.33" height="2.40" fill="rgb(92,92,249)"/><rect x="75.57" y="341.85" width="30.33" height="2.40" fill="rgb(108,108,249)"/><rect x="75.57" y="344.21" width="30.33" height="1.34" fill="rgb(99,99,249)"/><rect x="75.57" y="345.50" width="30.33" height="1.13" fill="rgb(141,141,249)"/><rect x="75.57" y="346.58" width="30.33" height="2.40" fill="rgb(141,141,249)"/><rect x="75.57" y="348.93" width="30.33" height="2.40" fill="rgb(157,157,249)"/><rect x="75.57" y="351.28" width="30.33" height="2.40" fill="rgb(121,121,249)"/><rect x="75.57" y="353.64" width="30.33" height="2.40" fill="rgb(154,154,249)"/><rect x="75.57" y="355.99" width="30.33" height="0.06" fill="rgb(117,117,249)"/><rect x="75.57" y="356.00" width="30.33" height="2.39" fill="rgb(91,91,249)"/><rect x="75.57" y="358.34" width="30.33" height="2.40" fill="rgb(130,130,249)"/><rect x="75.57" y="360.69" width="30.33" height="2.40" fill="rgb(111,111,249)"/><rect x="75.57" y="363.04" width="30.33" height="2.40" fill="rgb(96,96,249)"/><rect x="75.57" y="365.39" width="30.33" height="2.40" fill="rgb(90,90,249)"/><rect x="75.57" y="367.74" width="30.33" height="2.40" fill="rgb(112,112,249)"/><rect x="75.57" y="370.09" width="30.33" height="2.40" fill="rgb(119,119,249)"/><rect x="75.57" y="372.45" width="30.33" height="2.40" fill="rgb(122,122,249)"/><rect x="75.57" y="374.80" width="30.33" height="2.40" fill="rgb(91,91,249)"/><rect x="75.57" y="377.15" width="30.33" height="2.40" fill="rgb(122,122,249)"/><rect x="105.85" y="26.80" width="30.33" height="2.40" fill="rgb(170,170,249)"/><rect x="105.85" y="29.15" width="30.33" height="1.40" fill="rgb(193,193,249)"/><rect x="105.85" y="30.50" width="30.33" height="1.05" fill="rgb(233,233,250)"/><rect x="105.85" y="31.50" width="30.33" height="2.40" fill="rgb(206,206,250)"/><rect x="105.85" y="33.85" width="30.33" height="2.40" fill="rgb(255,255,250)"/><rect x="105.85" y="36.21" width="30.33" height="0.64" fill="rgb(214,214,250)"/><rect x="105.85" y="36.80" width="30.33" height="1.81" fill="rgb(179,179,249)"/><rect x="105.85" y="38.56" width="30.33" height="2.40" fill="rgb(159,159,249)"/><rect x="105.85" y="40.91" width="30.33" height="2.40" fill="rgb(169,169,249)"/><rect x="105.85" y="43.26" width="30.33" height="2.40" fill="rgb(194,194,249)"/><rect x="105.85" y="45.61" width="30.33" height="2.14" fill="rgb(158,158,249)"/><rect x="105.85" y="47.70" width="30.33" height="0.31" fill="rgb(215,215,250)"/><rect x="105.85" y="47.96" width="30.33" height="2.40" fill="rgb(243,243,250)"/><rect x="105.85" y="50.31" width="30.33" height="1.94" fill="rgb(244,244,250)"/><rect x="105.85" y="52.20" width="30.33" height="0.51" fill="rgb(160,160,249)"/><rect x="105.85" y="52.66" width="30.33" height="2.40" fill="rgb(162,162,249)"/><rect x="105.85" y="55.02" width="30.33" height="2.40" fill="rgb(169,169,249)"/><rect x="105.85" y="57.37" width="30.33" height="2.40" fill="rgb(178,178,249)"/><rect x="105.85" y="59.72" width="30.33" height="2.40" fill="rgb(167,167,249)"/><rect x="105.85" y="62.07" width="30.33" height="2.40" fill="rgb(169,169,249)"/><rect x="105.85" y="64.42" width="30.33" height="2.40" fill="rgb(142,142,249)"/><rect x="105.85" y="66.77" width="30.33" height="0.88" fill="rgb(185,185,249)"/><rect x="105.85" y="67.60" width="30.33" height="1.57" fill="rgb(171,171,249)"/><rect x="105.85" y="69.12" width="30.33" height="2.40" fill="rgb(166,166,249)"/><rect x="105.85" y="71.48" width="30.33" height="2.40" fill="rgb(205,205,249)"/><rect x="105.85" y="73.83" width="30.33" height="1.02" fill="rgb(161,161,249)"/><rect x="105.85" y="74.80" width="30.33" height="1.43" fill="rgb(130,130,249)"/><rect x="105.85" y="76.18" width="30.33" height="2.40" fill="rgb(121,121,249)"/><rect x="105.85" y="78.53" width="30.33" height="2.40" fill="rgb(149,149,249)"/><rect x="105.85" y="80.88" width="30.33" height="2.40" fill="rgb(145,145,249)"/><rect x="105.85" y="83.23" width="30.33" height="2.40" fill="rgb(145,145,249)"/><rect x="105.85" y="85.58" width="30.33" height="0.47" fill="rgb(116,116,249)"/><rect x="105.85" y="86.00" width="30.33" height="1.98" fill="rgb(116,116,249)"/><rect x="105.85" y="87.93" width="30.33" height="2.40" fill="rgb(126,126,249)"/><rect x="105.85" y="90.29" width="30.33" height="2.40" fill="rgb(123,123,249)"/><rect x="105.85" y="92.64" width="30.33" height="2.40" fill="rgb(129,129,249)"/><rect x="105.85" y="94.99" width="30.33" height="2.40" fill="rgb(139,139,249)"/><rect x="105.85" y="97.34" width="30.33" height="2.40" fill="rgb(137,137,249)"/><rect x="105.85" y="99.69" width="30.33" height="0.86" fill="rgb(105,105,249)"/><rect x="105.85" y="100.50" width="30.33" height="1.59" fill="rgb(253,253,252)"/><rect x="105.85" y="102.04" width="30.33" height="2.01" fill="rgb(212,212,252)"/><rect x="105.85" y="104.00" width="30.33" height="0.44" fill="rgb(146,146,249)"/><rect x="105.85" y="104.39" width="30.33" height="2.40" fill="rgb(145,145,249)"/><rect x="105.85" y="106.75" width="30.33" height="2.40" fill="rgb(134,134,249)"/><rect x="105.85" y="109.10" width="30.33" height="2.40" fill="rgb(149,149,249)"/><rect x="105.85" y="111.45" width="30.33" height="2.40" fill="rgb(140,140,249)"/><rect x="105.85" y="113.80" width="30.33" height="2.40" fill="rgb(114,114,249)"/><rect x="105.85" y="116.15" width="30.33" height="2.40" fill="rgb(117,117,249)"/><rect x="105.85" y="118.50" width="30.33" height="2.40" fill="rgb(120,120,249)"/><rect x="105.85" y="120.85" width="30.33" height="2.40" fill="rgb(128,128,249)"/><rect x="105.85" y="123.20" width="30.33" height="2.40" fill="rgb(115,115,249)"/><rect x="105.85" y="125.56" width="30.33" height="2.40" fill="rgb(114,114,249)"/><rect x="105.85" y="127.91" width="30.33" height="2.40" fill="rgb(132,132,249)"/><rect x="105.85" y="130.26" width="30.33" height="2.40" fill="rgb(124,124,249)"/><rect x="105.85" y="132.61" width="30.33" height="2.40" fill="rgb(155,155,249)"/><rect x="105.85" y="134.96" width="30.33" height="2.40" fill="rgb(124,124,249)"/><rect x="105.85" y="137.31" width="30.33" height="2.40" fill="rgb(137,137,249)"/><rect x="105.85" y="139.66" width="30.33" height="2.40" fill="rgb(123,123,249)"/><rect x="105.85" y="142.02" width="30.33" height="2.40" fill="rgb(128,128,249)"/><rect x="105.85" y="144.37" width="30.33" height="2.40" fill="rgb(144,144,249)"/><rect x="105.85" y="146.72" width="30.33" height="2.03" fill="rgb(155,155,249)"/><rect x="105.85" y="148.70" width="30.33" height="0.42" fill="rgb(212,212,252)"/><rect x="105.85" y="149.07" width="30.33" height="2.40" fill="rgb(255,255,252)"/><rect x="105.85" y="151.42" width="30.33" height="2.40" fill="rgb(241,241,252)"/><rect x="105.85" y="153.77" width="30.33" height="2.28" fill="rgb(249,249,252)"/><rect x="105.85" y="156.00" width="30.33" height="0.17" fill="rgb(149,149,249)"/><rect x="105.85" y="156.12" width="30.33" height="2.40" fill="rgb(128,128,249)"/><rect x="105.85" y="158.47" width="30.33" height="2.40" fill="rgb(117,117,249)"/><rect x="105.85" y="160.83" width="30.33" height="2.40" fill="rgb(151,151,249)"/><rect x="105.85" y="163.18" width="30.33" height="2.40" fill="rgb(132,132,249)"/><rect x="105.85" y="165.53" width="30.33" height="2.40" fill="rgb(149,149,249)"/><rect x="105.85" y="167.88" width="30.33" height="2.40" fill="rgb(137,137,249)"/><rect x="105.85" y="170.23" width="30.33" height="2.40" fill="rgb(144,144,249)"/><rect x="105.85" y="172.58" width="30.33" height="1.47" fill="rgb(155,155,249)"/><rect x="105.85" y="174.00" width="30.33" height="0.98" fill="rgb(250,34,34)"/><rect x="105.85" y="174.93" width="30.33" height="2.40" fill="rgb(250,33,33)"/><rect x="105.85" y="177.29" width="30.33" height="2.40" fill="rgb(250,17,17)"/><rect x="105.85" y="179.64" width="30.33" height="2.40" fill="rgb(250,25,25)"/><rect x="105.85" y="181.99" width="30.33" height="2.40" fill="rgb(250,32,32)"/><rect x="105.85" y="184.34" width="30.33" height="2.40" fill="rgb(250,17,17)"/><rect x="105.85" y="186.69" width="30.33" height="2.40" fill="rgb(250,17,17)"/><rect x="105.85" y="189.04" width="30.33" height="2.40" fill="rgb(250,26,26)"/><rect x="105.85" y="191.39" width="30.33" height="2.40" fill="rgb(250,34,34)"/><rect x="105.85" y="193.74" width="30.33" height="2.40" fill="rgb(250,33,33)"/><rect x="105.85" y="196.10" width="30.33" height="2.40" fill="rgb(250,36,36)"/><rect x="105.85" y="198.45" width="30.33" height="2.40" fill="rgb(250,29,29)"/><rect x="105.85" y="200.80" width="30.33" height="2.40" fill="rgb(250,36,36)"/><rect x="105.85" y="203.15" width="30.33" height="2.40" fill="rgb(250,32,32)"/><rect x="105.85" y="205.50" width="30.33" height="2.40" fill="rgb(250,31,31)"/><rect x="105.85" y="207.85" width="30.33" height="2.40" fill="rgb(250,23,23)"/><rect x="105.85" y="210.20" width="30.33" height="2.40" fill="rgb(250,17,17)"/><rect x="105.85" y="212.56" width="30.33" height="2.40" fill="rgb(250,18,18)"/><rect x="105.85" y="214.91" width="30.33" height="2.14" fill="rgb(250,27,27)"/><rect x="105.85" y="217.00" width="30.33" height="0.31" fill="rgb(250,174,174)"/><rect x="105.85" y="217.26" width="30.33" height="2.40" fill="rgb(250,168,168)"/><rect x="105.85" y="219.61" width="30.33" height="2.40" fill="rgb(250,176,176)"/><rect x="105.85" y="221.96" width="30.33" height="2.40" fill="rgb(250,178,178)"/><rect x="105.85" y="224.31" width="30.33" height="2.40" fill="rgb(250,192,192)"/><rect x="105.85" y="226.66" width="30.33" height="2.40" fill="rgb(250,181,181)"/><rect x="105.85" y="229.01" width="30.33" height="2.34" fill="rgb(250,145,145)"/><rect x="105.85" y="231.30" width="30.33" height="0.12" fill="rgb(250,237,237)"/><rect x="105.85" y="231.37" width="30.33" height="2.40" fill="rgb(250,214,214)"/><rect x="105.85" y="233.72" width="30.33" height="2.40" fill="rgb(250,207,207)"/><rect x="105.85" y="236.07" width="30.33" height="2.40" fill="rgb(250,193,193)"/><rect x="105.85" y="238.42" width="30.33" height="2.40" fill="rgb(250,231,231)"/><rect x="105.85" y="240.77" width="30.33" height="2.40" fill="rgb(250,228,228)"/><rect x="105.85" y="243.12" width="30.33" height="2.40" fill="rgb(250,229,229)"/><rect x="105.85" y="245.47" width="30.33" height="0.38" fill="rgb(250,220,220)"/><rect x="105.85" y="245.80" width="30.33" height="2.08" fill="rgb(248,243,250)"/><rect x="105.85" y="247.83" width="30.33" height="2.40" fill="rgb(215,210,250)"/><rect x="105.85" y="250.18" width="30.33" height="2.40" fill="rgb(222,217,250)"/><rect x="105.85" y="252.53" width="30.33" height="2.40" fill="rgb(220,215,250)"/><rect x="105.85" y="254.88" width="30.33" height="2.40" fill="rgb(255,250,250)"/><rect x="105.85" y="257.23" width="30.33" height="1.22" fill="rgb(255,250,250)"/><rect x="105.85" y="258.40" width="30.33" height="1.23" fill="rgb(250,53,53)"/><rect x="105.85" y="259.58" width="30.33" height="2.40" fill="rgb(250,46,46)"/><rect x="105.85" y="261.93" width="30.33" height="2.40" fill="rgb(250,60,60)"/><rect x="105.85" y="264.28" width="30.33" height="1.77" fill="rgb(250,57,57)"/><rect x="105.85" y="266.00" width="30.33" height="0.69" fill="rgb(250,60,60)"/><rect x="105.85" y="266.64" width="30.33" height="2.40" fill="rgb(250,48,48)"/><rect x="105.85" y="268.99" width="30.33" height="2.40" fill="rgb(250,31,31)"/><rect x="105.85" y="271.34" width="30.33" height="2.40" fill="rgb(250,34,34)"/><rect x="105.85" y="273.69" width="30.33" height="2.40" fill="rgb(250,34,34)"/><rect x="105.85" y="276.04" width="30.33" height="2.40" fill="rgb(250,30,30)"/><rect x="105.85" y="278.39" width="30.33" height="2.40" fill="rgb(250,52,52)"/><rect x="105.85" y="280.74" width="30.33" height="2.40" fill="rgb(250,57,57)"/><rect x="105.85" y="283.10" width="30.33" height="0.95" fill="rgb(250,55,55)"/><rect x="105.85" y="284.00" width="30.33" height="1.50" fill="rgb(250,109,109)"/><rect x="105.85" y="285.45" width="30.33" height="2.40" fill="rgb(250,102,102)"/><rect x="105.85" y="287.80" width="30.33" height="2.40" fill="rgb(250,91,91)"/><rect x="105.85" y="290.15" width="30.33" height="2.40" fill="rgb(250,100,100)"/><rect x="105.85" y="292.50" width="30.33" height="2.40" fill="rgb(250,103,103)"/><rect x="105.85" y="294.85" width="30.33" height="1.90" fill="rgb(250,98,98)"/><rect x="105.85" y="296.70" width="30.33" height="0.55" fill="rgb(250,71,71)"/><rect x="105.85" y="297.20" width="30.33" height="2.40" fill="rgb(250,68,68)"/><rect x="105.85" y="299.55" width="30.33" height="2.40" fill="rgb(250,86,86)"/><rect x="105.85" y="301.91" width="30.33" height="2.14" fill="rgb(250,60,60)"/><rect x="105.85" y="304.00" width="30.33" height="0.31" fill="rgb(250,121,121)"/><rect x="105.85" y="304.26" width="30.33" height="2.40" fill="rgb(250,92,92)"/><rect x="105.85" y="306.61" width="30.33" height="2.40" fill="rgb(250,103,103)"/><rect x="105.85" y="308.96" width="30.33" height="2.40" fill="rgb(250,118,118)"/><rect x="105.85" y="311.31" width="30.33" height="2.40" fill="rgb(250,125,125)"/><rect x="105.85" y="313.66" width="30.33" height="2.40" fill="rgb(250,120,120)"/><rect x="105.85" y="316.01" width="30.33" height="2.40" fill="rgb(250,104,104)"/><rect x="105.85" y="318.37" width="30.33" height="2.40" fill="rgb(250,101,101)"/><rect x="105.85" y="320.72" width="30.33" height="2.40" fill="rgb(250,126,126)"/><rect x="105.85" y="323.07" width="30.33" height="2.40" fill="rgb(250,127,127)"/><rect x="105.85" y="325.42" width="30.33" height="0.63" fill="rgb(250,108,108)"/><rect x="105.85" y="326.00" width="30.33" height="1.82" fill="rgb(250,126,126)"/><rect x="105.85" y="327.77" width="30.33" height="1.88" fill="rgb(250,135,135)"/><rect x="105.85" y="329.60" width="30.33" height="0.57" fill="rgb(250,79,79)"/><rect x="105.85" y="330.12" width="30.33" height="2.40" fill="rgb(250,66,66)"/><rect x="105.85" y="332.47" width="30.33" height="2.40" fill="rgb(250,87,87)"/><rect x="105.85" y="334.82" width="30.33" height="0.23" fill="rgb(250,76,76)"/><rect x="105.85" y="335.00" width="30.33" height="2.23" fill="rgb(250,111,111)"/><rect x="105.85" y="337.18" width="30.33" height="2.40" fill="rgb(250,90,90)"/><rect x="105.85" y="339.53" width="30.33" height="1.02" fill="rgb(250,103,103)"/><rect x="105.85" y="340.50" width="30.33" height="1.43" fill="rgb(250,56,56)"/><rect x="105.85" y="341.88" width="30.33" height="2.40" fill="rgb(250,70,70)"/><rect x="105.85" y="344.23" width="30.33" height="2.40" fill="rgb(250,79,79)"/><rect x="105.85" y="346.58" width="30.33" height="2.40" fill="rgb(250,78,78)"/><rect x="105.85" y="348.93" width="30.33" height="0.62" fill="rgb(250,53,53)"/><rect x="105.85" y="349.50" width="30.33" height="1.83" fill="rgb(250,178,178)"/><rect x="105.85" y="351.28" width="30.33" height="2.40" fill="rgb(250,200,200)"/><rect x="105.85" y="353.64" width="30.33" height="2.40" fill="rgb(250,216,216)"/><rect x="105.85" y="355.99" width="30.33" height="2.40" fill="rgb(250,190,190)"/><rect x="105.85" y="358.34" width="30.33" height="2.40" fill="rgb(250,180,180)"/><rect x="105.85" y="360.69" width="30.33" height="1.56" fill="rgb(250,194,194)"/><rect x="105.85" y="362.20" width="30.33" height="0.89" fill="rgb(250,151,151)"/><rect x="105.85" y="363.04" width="30.33" height="2.40" fill="rgb(250,132,132)"/><rect x="105.85" y="365.39" width="30.33" height="2.40" fill="rgb(250,120,120)"/><rect x="105.85" y="367.74" width="30.33" height="1.71" fill="rgb(250,152,152)"/><rect x="105.85" y="369.40" width="30.33" height="0.74" fill="rgb(250,226,226)"/><rect x="105.85" y="370.09" width="30.33" height="2.40" fill="rgb(250,209,209)"/><rect x="105.85" y="372.45" width="30.33" height="2.40" fill="rgb(250,204,204)"/><rect x="105.85" y="374.80" width="30.33" height="2.40" fill="rgb(250,189,189)"/><rect x="105.85" y="377.15" width="30.33" height="2.40" fill="rgb(250,217,217)"/><rect x="136.13" y="26.80" width="30.33" height="2.40" fill="rgb(135,135,249)"/><rect x="136.13" y="29.15" width="30.33" height="2.30" fill="rgb(138,138,249)"/><rect x="136.13" y="31.40" width="30.33" height="0.15" fill="rgb(114,114,249)"/><rect x="136.13" y="31.50" width="30.33" height="2.40" fill="rgb(127,127,249)"/><rect x="136.13" y="33.85" width="30.33" height="2.40" fill="rgb(94,94,249)"/><rect x="136.13" y="36.21" width="30.33" height="2.40" fill="rgb(123,123,249)"/><rect x="136.13" y="38.56" width="30.33" height="2.40" fill="rgb(101,101,249)"/><rect x="136.13" y="40.91" width="30.33" height="2.40" fill="rgb(126,126,249)"/><rect x="136.13" y="43.26" width="30.33" height="2.40" fill="rgb(126,126,249)"/><rect x="136.13" y="45.61" width="30.33" height="0.44" fill="rgb(103,103,249)"/><rect x="136.13" y="46.00" width="30.33" height="2.01" fill="rgb(99,99,249)"/><rect x="136.13" y="47.96" width="30.33" height="2.40" fill="rgb(74,74,249)"/><rect x="136.13" y="50.31" width="30.33" height="1.24" fill="rgb(92,92,249)"/><rect x="136.13" y="51.50" width="30.33" height="1.21" fill="rgb(131,131,249)"/><rect x="136.13" y="52.66" width="30.33" height="2.39" fill="rgb(129,129,249)"/><rect x="136.13" y="55.00" width="30.33" height="2.40" fill="rgb(143,143,249)"/><rect x="136.13" y="57.35" width="30.33" height="2.40" fill="rgb(132,132,249)"/><rect x="136.13" y="59.70" width="30.33" height="2.40" fill="rgb(118,118,249)"/><rect x="136.13" y="62.05" width="30.33" height="2.40" fill="rgb(156,156,249)"/><rect x="136.13" y="64.41" width="30.33" height="2.40" fill="rgb(144,144,249)"/><rect x="136.13" y="66.76" width="30.33" height="2.40" fill="rgb(153,153,249)"/><rect x="136.13" y="69.11" width="30.33" height="2.14" fill="rgb(117,117,249)"/><rect x="136.13" y="71.20" width="30.33" height="0.33" fill="rgb(177,177,249)"/><rect x="136.13" y="71.48" width="30.33" height="2.40" fill="rgb(182,182,249)"/><rect x="136.13" y="73.83" width="30.33" height="2.40" fill="rgb(182,182,249)"/><rect x="136.13" y="76.18" width="30.33" height="2.40" fill="rgb(165,165,249)"/><rect x="136.13" y="78.53" width="30.33" height="2.40" fill="rgb(139,139,249)"/><rect x="136.13" y="80.88" width="30.33" height="2.40" fill="rgb(140,140,249)"/><rect x="136.13" y="83.23" width="30.33" height="2.40" fill="rgb(148,148,249)"/><rect x="136.13" y="85.58" width="30.33" height="0.47" fill="rgb(135,135,249)"/><rect x="136.13" y="86.00" width="30.33" height="1.98" fill="rgb(129,129,249)"/><rect x="136.13" y="87.93" width="30.33" height="2.40" fill="rgb(158,158,249)"/><rect x="136.13" y="90.29" width="30.33" height="2.40" fill="rgb(165,165,249)"/><rect x="136.13" y="92.64" width="30.33" height="2.40" fill="rgb(128,128,249)"/><rect x="136.13" y="94.99" width="30.33" height="0.06" fill="rgb(138,138,249)"/><rect x="136.13" y="95.00" width="30.33" height="2.39" fill="rgb(226,226,249)"/><rect x="136.13" y="97.34" width="30.33" height="2.40" fill="rgb(190,190,249)"/><rect x="136.13" y="99.69" width="30.33" height="0.86" fill="rgb(206,206,249)"/><rect x="136.13" y="100.50" width="30.33" height="1.59" fill="rgb(151,151,249)"/><rect x="136.13" y="102.04" width="30.33" height="2.40" fill="rgb(153,153,249)"/><rect x="136.13" y="104.39" width="30.33" height="2.40" fill="rgb(160,160,249)"/><rect x="136.13" y="106.75" width="30.33" height="2.40" fill="rgb(168,168,249)"/><rect x="136.13" y="109.10" width="30.33" height="2.40" fill="rgb(155,155,249)"/><rect x="136.13" y="111.45" width="30.33" height="2.40" fill="rgb(152,152,249)"/><rect x="136.13" y="113.80" width="30.33" height="2.40" fill="rgb(123,123,249)"/><rect x="136.13" y="116.15" width="30.33" height="2.40" fill="rgb(162,162,249)"/><rect x="136.13" y="118.50" width="30.33" height="2.40" fill="rgb(122,122,249)"/><rect x="136.13" y="120.85" width="30.33" height="2.40" fill="rgb(158,158,249)"/><rect x="136.13" y="123.20" width="30.33" height="2.40" fill="rgb(151,151,249)"/><rect x="136.13" y="125.56" width="30.33" height="2.40" fill="rgb(129,129,249)"/><rect x="136.13" y="127.91" width="30.33" height="2.40" fill="rgb(129,129,249)"/><rect x="136.13" y="130.26" width="30.33" height="2.40" fill="rgb(148,148,249)"/><rect x="136.13" y="132.61" width="30.33" height="2.40" fill="rgb(166,166,249)"/><rect x="136.13" y="134.96" width="30.33" height="2.40" fill="rgb(146,146,249)"/><rect x="136.13" y="137.31" width="30.33" height="2.40" fill="rgb(151,151,249)"/><rect x="136.13" y="139.66" width="30.33" height="2.40" fill="rgb(124,124,249)"/><rect x="136.13" y="142.02" width="30.33" height="2.40" fill="rgb(159,159,249)"/><rect x="136.13" y="144.37" width="30.33" height="1.68" fill="rgb(151,151,249)"/><rect x="136.13" y="146.00" width="30.33" height="0.77" fill="rgb(95,95,249)"/><rect x="136.13" y="146.72" width="30.33" height="2.40" fill="rgb(131,131,249)"/><rect x="136.13" y="149.07" width="30.33" height="2.40" fill="rgb(115,115,249)"/><rect x="136.13" y="151.42" width="30.33" height="2.40" fill="rgb(98,98,249)"/><rect x="136.13" y="153.77" width="30.33" height="2.40" fill="rgb(100,100,249)"/><rect x="136.13" y="156.12" width="30.33" height="2.40" fill="rgb(131,131,249)"/><rect x="136.13" y="158.47" width="30.33" height="2.08" fill="rgb(131,131,249)"/><rect x="136.13" y="160.50" width="30.33" height="0.38" fill="rgb(214,214,249)"/><rect x="136.13" y="160.83" width="30.33" height="2.40" fill="rgb(166,166,249)"/><rect x="136.13" y="163.18" width="30.33" height="2.40" fill="rgb(203,203,249)"/><rect x="136.13" y="165.53" width="30.33" height="0.52" fill="rgb(176,176,249)"/><rect x="136.13" y="166.00" width="30.33" height="1.93" fill="rgb(130,130,249)"/><rect x="136.13" y="167.88" width="30.33" height="2.40" fill="rgb(157,157,249)"/><rect x="136.13" y="170.23" width="30.33" height="2.40" fill="rgb(161,161,249)"/><rect x="136.13" y="172.58" width="30.33" height="0.47" fill="rgb(127,127,249)"/><rect x="136.13" y="173.00" width="30.33" height="1.98" fill="rgb(208,208,250)"/><rect x="136.13" y="174.93" width="30.33" height="2.40" fill="rgb(229,229,250)"/><rect x="136.13" y="177.29" width="30.33" height="0.36" fill="rgb(202,202,250)"/><rect x="136.13" y="177.60" width="30.33" height="2.09" fill="rgb(250,246,251)"/><rect x="136.13" y="179.64" width="30.33" height="2.40" fill="rgb(250,249,254)"/><rect x="136.13" y="181.99" width="30.33" height="2.40" fill="rgb(250,255,255)"/><rect x="136.13" y="184.34" width="30.33" height="2.40" fill="rgb(250,218,223)"/><rect x="136.13" y="186.69" width="30.33" height="2.40" fill="rgb(250,208,213)"/><rect x="136.13" y="189.04" width="30.33" height="2.40" fill="rgb(250,226,231)"/><rect x="136.13" y="191.39" width="30.33" height="2.40" fill="rgb(250,207,212)"/><rect x="136.13" y="193.74" width="30.33" height="2.40" fill="rgb(250,255,255)"/><rect x="136.13" y="196.10" width="30.33" height="2.35" fill="rgb(250,251,255)"/><rect x="136.13" y="198.40" width="30.33" height="2.40" fill="rgb(216,216,249)"/><rect x="136.13" y="200.75" width="30.33" height="1.30" fill="rgb(187,187,249)"/><rect x="136.13" y="202.00" width="30.33" height="1.20" fill="rgb(250,201,206)"/><rect x="136.13" y="203.15" width="30.33" height="2.40" fill="rgb(250,237,242)"/><rect x="136.13" y="205.50" width="30.33" height="0.55" fill="rgb(250,245,250)"/><rect x="136.13" y="206.00" width="30.33" height="1.90" fill="rgb(250,214,214)"/><rect x="136.13" y="207.85" width="30.33" height="2.40" fill="rgb(250,210,210)"/><rect x="136.13" y="210.20" width="30.33" height="2.40" fill="rgb(250,184,184)"/><rect x="136.13" y="212.56" width="30.33" height="2.40" fill="rgb(250,228,228)"/><rect x="136.13" y="214.91" width="30.33" height="2.14" fill="rgb(250,192,192)"/><rect x="136.13" y="217.00" width="30.33" height="0.31" fill="rgb(250,52,52)"/><rect x="136.13" y="217.26" width="30.33" height="2.40" fill="rgb(250,49,49)"/><rect x="136.13" y="219.61" width="30.33" height="2.40" fill="rgb(250,50,50)"/><rect x="136.13" y="221.96" width="30.33" height="2.40" fill="rgb(250,56,56)"/><rect x="136.13" y="224.31" width="30.33" height="2.40" fill="rgb(250,65,65)"/><rect x="136.13" y="226.66" width="30.33" height="2.40" fill="rgb(250,66,66)"/><rect x="136.13" y="229.01" width="30.33" height="2.40" fill="rgb(250,64,64)"/><rect x="136.13" y="231.37" width="30.33" height="2.40" fill="rgb(250,50,50)"/><rect x="136.13" y="233.72" width="30.33" height="2.40" fill="rgb(250,74,74)"/><rect x="136.13" y="236.07" width="30.33" height="2.40" fill="rgb(250,70,70)"/><rect x="136.13" y="238.42" width="30.33" height="2.40" fill="rgb(250,51,51)"/><rect x="136.13" y="240.77" width="30.33" height="2.40" fill="rgb(250,68,68)"/><rect x="136.13" y="243.12" width="30.33" height="2.40" fill="rgb(250,74,74)"/><rect x="136.13" y="245.47" width="30.33" height="2.40" fill="rgb(250,75,75)"/><rect x="136.13" y="247.83" width="30.33" height="2.40" fill="rgb(250,58,58)"/><rect x="136.13" y="250.18" width="30.33" height="2.40" fill="rgb(250,65,65)"/><rect x="136.13" y="252.53" width="30.33" height="2.40" fill="rgb(250,43,43)"/><rect x="136.13" y="254.88" width="30.33" height="2.40" fill="rgb(250,47,47)"/><rect x="136.13" y="257.23" width="30.33" height="1.22" fill="rgb(250,43,43)"/><rect x="136.13" y="258.40" width="30.33" height="1.23" fill="rgb(250,171,171)"/><rect x="136.13" y="259.58" width="30.33" height="2.40" fill="rgb(250,180,180)"/><rect x="136.13" y="261.93" width="30.33" height="2.40" fill="rgb(250,180,180)"/><rect x="136.13" y="264.28" width="30.33" height="1.77" fill="rgb(250,160,160)"/><rect x="136.13" y="266.00" width="30.33" height="0.69" fill="rgb(250,130,130)"/><rect x="136.13" y="266.64" width="30.33" height="2.40" fill="rgb(250,142,142)"/><rect x="136.13" y="268.99" width="30.33" height="2.40" fill="rgb(250,152,152)"/><rect x="136.13" y="271.34" width="30.33" height="2.40" fill="rgb(250,143,143)"/><rect x="136.13" y="273.69" width="30.33" height="2.40" fill="rgb(250,134,134)"/><rect x="136.13" y="276.04" width="30.33" height="2.40" fill="rgb(250,131,131)"/><rect x="136.13" y="278.39" width="30.33" height="2.40" fill="rgb(250,128,128)"/><rect x="136.13" y="280.74" width="30.33" height="2.40" fill="rgb(250,123,123)"/><rect x="136.13" y="283.10" width="30.33" height="0.95" fill="rgb(250,132,132)"/><rect x="136.13" y="284.00" width="30.33" height="1.50" fill="rgb(250,83,83)"/><rect x="136.13" y="285.45" width="30.33" height="2.40" fill="rgb(250,58,58)"/><rect x="136.13" y="287.80" width="30.33" height="2.40" fill="rgb(250,77,77)"/><rect x="136.13" y="290.15" width="30.33" height="2.40" fill="rgb(250,67,67)"/><rect x="136.13" y="292.50" width="30.33" height="2.40" fill="rgb(250,74,74)"/><rect x="136.13" y="294.85" width="30.33" height="0.20" fill="rgb(250,61,61)"/><rect x="136.13" y="295.00" width="30.33" height="2.25" fill="rgb(250,217,217)"/><rect x="136.13" y="297.20" width="30.33" height="2.40" fill="rgb(250,214,214)"/><rect x="136.13" y="299.55" width="30.33" height="2.40" fill="rgb(250,214,214)"/><rect x="136.13" y="301.91" width="30.33" height="2.40" fill="rgb(250,219,219)"/><rect x="136.13" y="304.26" width="30.33" height="2.40" fill="rgb(250,178,178)"/><rect x="136.13" y="306.61" width="30.33" height="2.40" fill="rgb(250,195,195)"/><rect x="136.13" y="308.96" width="30.33" height="2.29" fill="rgb(250,209,209)"/><rect x="136.13" y="311.20" width="30.33" height="0.16" fill="rgb(250,134,134)"/><rect x="136.13" y="311.31" width="30.33" height="2.40" fill="rgb(250,107,107)"/><rect x="136.13" y="313.66" width="30.33" height="2.40" fill="rgb(250,129,129)"/><rect x="136.13" y="316.01" width="30.33" height="2.40" fill="rgb(250,142,142)"/><rect x="136.13" y="318.37" width="30.33" height="2.40" fill="rgb(250,116,116)"/><rect x="136.13" y="320.72" width="30.33" height="2.40" fill="rgb(250,123,123)"/><rect x="136.13" y="323.07" width="30.33" height="2.40" fill="rgb(250,107,107)"/><rect x="136.13" y="325.42" width="30.33" height="0.63" fill="rgb(250,147,147)"/><rect x="136.13" y="326.00" width="30.33" height="1.82" fill="rgb(250,151,151)"/><rect x="136.13" y="327.77" width="30.33" height="2.40" fill="rgb(250,134,134)"/><rect x="136.13" y="330.12" width="30.33" height="2.40" fill="rgb(250,133,133)"/><rect x="136.13" y="332.47" width="30.33" height="2.40" fill="rgb(250,129,129)"/><rect x="136.13" y="334.82" width="30.33" height="2.40" fill="rgb(250,172,172)"/><rect x="136.13" y="337.18" width="30.33" height="2.40" fill="rgb(250,160,160)"/><rect x="136.13" y="339.53" width="30.33" height="2.40" fill="rgb(250,168,168)"/><rect x="136.13" y="341.88" width="30.33" height="2.40" fill="rgb(250,165,165)"/><rect x="136.13" y="344.23" width="30.33" height="2.40" fill="rgb(250,127,127)"/><rect x="136.13" y="346.58" width="30.33" height="1.17" fill="rgb(250,145,145)"/><rect x="136.13" y="347.70" width="30.33" height="1.28" fill="rgb(250,73,73)"/><rect x="136.13" y="348.93" width="30.33" height="2.40" fill="rgb(250,94,94)"/><rect x="136.13" y="351.28" width="30.33" height="2.40" fill="rgb(250,75,75)"/><rect x="136.13" y="353.64" width="30.33" height="2.40" fill="rgb(250,91,91)"/><rect x="136.13" y="355.99" width="30.33" height="2.40" fill="rgb(250,99,99)"/><rect x="136.13" y="358.34" width="30.33" height="2.40" fill="rgb(250,79,79)"/><rect x="136.13" y="360.69" width="30.33" height="1.56" fill="rgb(250,72,72)"/><rect x="136.13" y="362.20" width="30.33" height="0.89" fill="rgb(250,179,179)"/><rect x="136.13" y="363.04" width="30.33" height="2.40" fill="rgb(250,155,155)"/><rect x="136.13" y="365.39" width="30.33" height="2.40" fill="rgb(250,153,153)"/><rect x="136.13" y="367.74" width="30.33" height="2.40" fill="rgb(250,174,174)"/><rect x="136.13" y="370.09" width="30.33" height="2.40" fill="rgb(250,166,166)"/><rect x="136.13" y="372.45" width="30.33" height="0.60" fill="rgb(250,178,178)"/><rect x="136.13" y="373.00" width="30.33" height="1.85" fill="rgb(250,143,143)"/><rect x="136.13" y="374.80" width="30.33" height="2.40" fill="rgb(250,141,141)"/><rect x="136.13" y="377.15" width="30.33" height="2.40" fill="rgb(250,125,125)"/><rect x="166.42" y="26.80" width="30.33" height="2.40" fill="rgb(123,123,249)"/><rect x="166.42" y="29.15" width="30.33" height="2.40" fill="rgb(143,143,249)"/><rect x="166.42" y="31.50" width="30.33" height="2.40" fill="rgb(152,152,249)"/><rect x="166.42" y="33.85" width="30.33" height="2.40" fill="rgb(137,137,249)"/><rect x="166.42" y="36.21" width="30.33" height="0.64" fill="rgb(121,121,249)"/><rect x="166.42" y="36.80" width="30.33" height="1.81" fill="rgb(191,191,249)"/><rect x="166.42" y="38.56" width="30.33" height="2.40" fill="rgb(184,184,249)"/><rect x="166.42" y="40.91" width="30.33" height="2.40" fill="rgb(190,190,249)"/><rect x="166.42" y="43.26" width="30.33" height="2.40" fill="rgb(159,159,249)"/><rect x="166.42" y="45.61" width="30.33" height="2.40" fill="rgb(172,172,249)"/><rect x="166.42" y="47.96" width="30.33" height="1.59" fill="rgb(198,198,249)"/><rect x="166.42" y="49.50" width="30.33" height="0.86" fill="rgb(222,222,249)"/><rect x="166.42" y="50.31" width="30.33" height="2.40" fill="rgb(205,205,249)"/><rect x="166.42" y="52.66" width="30.33" height="2.39" fill="rgb(197,197,249)"/><rect x="166.42" y="55.00" width="30.33" height="2.40" fill="rgb(172,172,249)"/><rect x="166.42" y="57.35" width="30.33" height="2.40" fill="rgb(201,201,249)"/><rect x="166.42" y="59.70" width="30.33" height="2.40" fill="rgb(198,198,249)"/><rect x="166.42" y="62.05" width="30.33" height="2.40" fill="rgb(169,169,249)"/><rect x="166.42" y="64.41" width="30.33" height="2.40" fill="rgb(184,184,249)"/><rect x="166.42" y="66.76" width="30.33" height="2.40" fill="rgb(191,191,249)"/><rect x="166.42" y="69.11" width="30.33" height="0.34" fill="rgb(190,190,249)"/><rect x="166.42" y="69.40" width="30.33" height="2.13" fill="rgb(109,109,249)"/><rect x="166.42" y="71.48" width="30.33" height="2.40" fill="rgb(138,138,249)"/><rect x="166.42" y="73.83" width="30.33" height="2.40" fill="rgb(126,126,249)"/><rect x="166.42" y="76.18" width="30.33" height="0.47" fill="rgb(136,136,249)"/><rect x="166.42" y="76.60" width="30.33" height="1.98" fill="rgb(177,177,249)"/><rect x="166.42" y="78.53" width="30.33" height="2.40" fill="rgb(153,153,249)"/><rect x="166.42" y="80.88" width="30.33" height="2.40" fill="rgb(146,146,249)"/><rect x="166.42" y="83.23" width="30.33" height="2.40" fill="rgb(180,180,249)"/><rect x="166.42" y="85.58" width="30.33" height="2.40" fill="rgb(188,188,249)"/><rect x="166.42" y="87.93" width="30.33" height="2.40" fill="rgb(161,161,249)"/><rect x="166.42" y="90.29" width="30.33" height="2.40" fill="rgb(188,188,249)"/><rect x="166.42" y="92.64" width="30.33" height="2.40" fill="rgb(198,198,249)"/><rect x="166.42" y="94.99" width="30.33" height="2.40" fill="rgb(151,151,249)"/><rect x="166.42" y="97.34" width="30.33" height="2.40" fill="rgb(176,176,249)"/><rect x="166.42" y="99.69" width="30.33" height="2.40" fill="rgb(156,156,249)"/><rect x="166.42" y="102.04" width="30.33" height="2.40" fill="rgb(177,177,249)"/><rect x="166.42" y="104.39" width="30.33" height="2.40" fill="rgb(152,152,249)"/><rect x="166.42" y="106.75" width="30.33" height="2.40" fill="rgb(175,175,249)"/><rect x="166.42" y="109.10" width="30.33" height="2.40" fill="rgb(190,190,249)"/><rect x="166.42" y="111.45" width="30.33" height="2.40" fill="rgb(198,198,249)"/><rect x="166.42" y="113.80" width="30.33" height="2.40" fill="rgb(170,170,249)"/><rect x="166.42" y="116.15" width="30.33" height="2.40" fill="rgb(165,165,249)"/><rect x="166.42" y="118.50" width="30.33" height="2.40" fill="rgb(120,120,249)"/><rect x="166.42" y="120.85" width="30.33" height="2.40" fill="rgb(159,159,249)"/><rect x="166.42" y="123.20" width="30.33" height="2.40" fill="rgb(134,134,249)"/><rect x="166.42" y="125.55" width="30.33" height="2.10" fill="rgb(146,146,249)"/><rect x="166.42" y="127.60" width="30.33" height="0.36" fill="rgb(189,189,249)"/><rect x="166.42" y="127.91" width="30.33" height="2.40" fill="rgb(209,209,249)"/><rect x="166.42" y="130.26" width="30.33" height="2.40" fill="rgb(201,201,249)"/><rect x="166.42" y="132.61" width="30.33" height="2.40" fill="rgb(188,188,249)"/><rect x="166.42" y="134.96" width="30.33" height="2.40" fill="rgb(166,166,249)"/><rect x="166.42" y="137.31" width="30.33" height="1.14" fill="rgb(211,211,249)"/><rect x="166.42" y="138.40" width="30.33" height="1.31" fill="rgb(155,155,249)"/><rect x="166.42" y="139.66" width="30.33" height="2.40" fill="rgb(139,139,249)"/><rect x="166.42" y="142.02" width="30.33" height="2.40" fill="rgb(131,131,249)"/><rect x="166.42" y="144.37" width="30.33" height="2.40" fill="rgb(169,169,249)"/><rect x="166.42" y="146.72" width="30.33" height="2.40" fill="rgb(173,173,249)"/><rect x="166.42" y="149.07" width="30.33" height="2.38" fill="rgb(133,133,249)"/><rect x="166.42" y="151.40" width="30.33" height="2.40" fill="rgb(103,103,249)"/><rect x="166.42" y="153.75" width="30.33" height="2.40" fill="rgb(125,125,249)"/><rect x="166.42" y="156.10" width="30.33" height="2.40" fill="rgb(144,144,249)"/><rect x="166.42" y="158.45" width="30.33" height="2.40" fill="rgb(106,106,249)"/><rect x="166.42" y="160.81" width="30.33" height="2.40" fill="rgb(129,129,249)"/><rect x="166.42" y="163.16" width="30.33" height="2.40" fill="rgb(107,107,249)"/><rect x="166.42" y="165.51" width="30.33" height="2.40" fill="rgb(119,119,249)"/><rect x="166.42" y="167.86" width="30.33" height="2.40" fill="rgb(110,110,249)"/><rect x="166.42" y="170.21" width="30.33" height="2.40" fill="rgb(140,140,249)"/><rect x="166.42" y="172.56" width="30.33" height="2.40" fill="rgb(112,112,249)"/><rect x="166.42" y="174.91" width="30.33" height="0.14" fill="rgb(137,137,249)"/><rect x="166.42" y="175.00" width="30.33" height="2.34" fill="rgb(250,154,154)"/><rect x="166.42" y="177.29" width="30.33" height="2.40" fill="rgb(250,133,133)"/><rect x="166.42" y="179.64" width="30.33" height="0.81" fill="rgb(250,134,134)"/><rect x="166.42" y="180.40" width="30.33" height="1.64" fill="rgb(250,228,228)"/><rect x="166.42" y="181.99" width="30.33" height="2.40" fill="rgb(250,226,226)"/><rect x="166.42" y="184.34" width="30.33" height="2.40" fill="rgb(250,215,215)"/><rect x="166.42" y="186.69" width="30.33" height="0.96" fill="rgb(250,208,208)"/><rect x="166.42" y="187.60" width="30.33" height="1.49" fill="rgb(252,242,242)"/><rect x="166.42" y="189.04" width="30.33" height="2.40" fill="rgb(252,255,255)"/><rect x="166.42" y="191.39" width="30.33" height="2.40" fill="rgb(252,250,250)"/><rect x="166.42" y="193.74" width="30.33" height="2.40" fill="rgb(252,220,220)"/><rect x="166.42" y="196.10" width="30.33" height="2.40" fill="rgb(252,210,210)"/><rect x="166.42" y="198.45" width="30.33" height="2.40" fill="rgb(252,255,255)"/><rect x="166.42" y="200.80" width="30.33" height="2.40" fill="rgb(252,231,231)"/><rect x="166.42" y="203.15" width="30.33" height="2.40" fill="rgb(252,218,218)"/><rect x="166.42" y="205.50" width="30.33" height="0.55" fill="rgb(252,255,255)"/><rect x="166.42" y="206.00" width="30.33" height="1.90" fill="rgb(250,204,204)"/><rect x="166.42" y="207.85" width="30.33" height="2.40" fill="rgb(250,248,248)"/><rect x="166.42" y="210.20" width="30.33" height="0.35" fill="rgb(250,218,218)"/><rect x="166.42" y="210.50" width="30.33" height="2.11" fill="rgb(212,212,249)"/><rect x="166.42" y="212.56" width="30.33" height="1.49" fill="rgb(207,207,249)"/><rect x="166.42" y="214.00" width="30.33" height="0.96" fill="rgb(250,252,255)"/><rect x="166.42" y="214.91" width="30.33" height="2.40" fill="rgb(250,245,250)"/><rect x="166.42" y="217.26" width="30.33" height="2.40" fill="rgb(250,234,239)"/><rect x="166.42" y="219.61" width="30.33" height="2.40" fill="rgb(250,244,249)"/><rect x="166.42" y="221.96" width="30.33" height="0.39" fill="rgb(250,229,234)"/><rect x="166.42" y="222.30" width="30.33" height="2.06" fill="rgb(250,192,192)"/><rect x="166.42" y="224.31" width="30.33" height="2.40" fill="rgb(250,193,193)"/><rect x="166.42" y="226.66" width="30.33" height="2.40" fill="rgb(250,216,216)"/><rect x="166.42" y="229.01" width="30.33" height="2.40" fill="rgb(250,183,183)"/><rect x="166.42" y="231.37" width="30.33" height="1.68" fill="rgb(250,190,190)"/><rect x="166.42" y="233.00" width="30.33" height="0.77" fill="rgb(250,173,173)"/><rect x="166.42" y="233.72" width="30.33" height="2.40" fill="rgb(250,146,146)"/><rect x="166.42" y="236.07" width="30.33" height="2.40" fill="rgb(250,145,145)"/><rect x="166.42" y="238.42" width="30.33" height="2.40" fill="rgb(250,162,162)"/><rect x="166.42" y="240.77" width="30.33" height="1.28" fill="rgb(250,176,176)"/><rect x="166.42" y="242.00" width="30.33" height="1.17" fill="rgb(250,201,201)"/><rect x="166.42" y="243.12" width="30.33" height="2.40" fill="rgb(250,222,222)"/><rect x="166.42" y="245.47" width="30.33" height="2.40" fill="rgb(250,221,221)"/><rect x="166.42" y="247.83" width="30.33" height="2.40" fill="rgb(250,203,203)"/><rect x="166.42" y="250.18" width="30.33" height="2.40" fill="rgb(250,223,223)"/><rect x="166.42" y="252.53" width="30.33" height="2.40" fill="rgb(250,203,203)"/><rect x="166.42" y="254.88" width="30.33" height="2.40" fill="rgb(250,199,199)"/><rect x="166.42" y="257.23" width="30.33" height="2.40" fill="rgb(250,226,226)"/><rect x="166.42" y="259.58" width="30.33" height="0.47" fill="rgb(250,192,192)"/><rect x="166.42" y="260.00" width="30.33" height="1.98" fill="rgb(250,250,250)"/><rect x="166.42" y="261.93" width="30.33" height="2.40" fill="rgb(250,210,210)"/><rect x="166.42" y="264.28" width="30.33" height="1.77" fill="rgb(250,208,208)"/><rect x="166.42" y="266.00" width="30.33" height="0.69" fill="rgb(250,239,244)"/><rect x="166.42" y="266.64" width="30.33" height="2.40" fill="rgb(250,255,255)"/><rect x="166.42" y="268.99" width="30.33" height="2.40" fill="rgb(250,239,244)"/><rect x="166.42" y="271.34" width="30.33" height="2.40" fill="rgb(250,247,252)"/><rect x="166.42" y="273.69" width="30.33" height="2.40" fill="rgb(250,211,216)"/><rect x="166.42" y="276.04" width="30.33" height="2.40" fill="rgb(250,255,255)"/><rect x="166.42" y="278.39" width="30.33" height="2.16" fill="rgb(250,217,222)"/><rect x="166.42" y="280.50" width="30.33" height="0.29" fill="rgb(190,190,250)"/><rect x="166.42" y="280.74" width="30.33" height="2.40" fill="rgb(205,205,250)"/><rect x="166.42" y="283.10" width="30.33" height="0.95" fill="rgb(200,200,250)"/><rect x="166.42" y="284.00" width="30.33" height="1.50" fill="rgb(250,254,255)"/><rect x="166.42" y="285.45" width="30.33" height="2.40" fill="rgb(250,204,209)"/><rect x="166.42" y="287.80" width="30.33" height="2.40" fill="rgb(250,235,240)"/><rect x="166.42" y="290.15" width="30.33" height="2.40" fill="rgb(250,206,211)"/><rect x="166.42" y="292.50" width="30.33" height="2.40" fill="rgb(250,208,213)"/><rect x="166.42" y="294.85" width="30.33" height="1.00" fill="rgb(250,255,255)"/><rect x="166.42" y="295.80" width="30.33" height="1.45" fill="rgb(250,135,135)"/><rect x="166.42" y="297.20" width="30.33" height="2.40" fill="rgb(250,129,129)"/><rect x="166.42" y="299.55" width="30.33" height="2.40" fill="rgb(250,171,171)"/><rect x="166.42" y="301.91" width="30.33" height="2.14" fill="rgb(250,157,157)"/><rect x="166.42" y="304.00" width="30.33" height="0.31" fill="rgb(250,70,70)"/><rect x="166.42" y="304.26" width="30.33" height="2.40" fill="rgb(250,92,92)"/><rect x="166.42" y="306.61" width="30.33" height="2.40" fill="rgb(250,65,65)"/><rect x="166.42" y="308.96" width="30.33" height="0.49" fill="rgb(250,88,88)"/><rect x="166.42" y="309.40" width="30.33" height="1.96" fill="rgb(250,163,163)"/><rect x="166.42" y="311.31" width="30.33" height="2.40" fill="rgb(250,199,199)"/><rect x="166.42" y="313.66" width="30.33" height="2.40" fill="rgb(250,179,179)"/><rect x="166.42" y="316.01" width="30.33" height="2.40" fill="rgb(250,157,157)"/><rect x="166.42" y="318.37" width="30.33" height="0.08" fill="rgb(250,195,195)"/><rect x="166.42" y="318.40" width="30.33" height="2.37" fill="rgb(250,151,151)"/><rect x="166.42" y="320.72" width="30.33" height="2.40" fill="rgb(250,139,139)"/><rect x="166.42" y="323.07" width="30.33" height="2.40" fill="rgb(250,148,148)"/><rect x="166.42" y="325.42" width="30.33" height="0.63" fill="rgb(250,161,161)"/><rect x="166.42" y="326.00" width="30.33" height="1.82" fill="rgb(250,218,218)"/><rect x="166.42" y="327.77" width="30.33" height="2.40" fill="rgb(250,219,219)"/><rect x="166.42" y="330.12" width="30.33" height="2.40" fill="rgb(250,175,175)"/><rect x="166.42" y="332.47" width="30.33" height="2.40" fill="rgb(250,189,189)"/><rect x="166.42" y="334.82" width="30.33" height="2.40" fill="rgb(250,177,177)"/><rect x="166.42" y="337.18" width="30.33" height="2.40" fill="rgb(250,218,218)"/><rect x="166.42" y="339.53" width="30.33" height="2.40" fill="rgb(250,183,183)"/><rect x="166.42" y="341.88" width="30.33" height="2.40" fill="rgb(250,221,221)"/><rect x="166.42" y="344.23" width="30.33" height="2.40" fill="rgb(250,198,198)"/><rect x="166.42" y="346.58" width="30.33" height="2.40" fill="rgb(250,192,192)"/><rect x="166.42" y="348.93" width="30.33" height="0.62" fill="rgb(250,207,207)"/><rect x="166.42" y="349.50" width="30.33" height="1.83" fill="rgb(250,131,131)"/><rect x="166.42" y="351.28" width="30.33" height="2.40" fill="rgb(250,147,147)"/><rect x="166.42" y="353.64" width="30.33" height="2.40" fill="rgb(250,146,146)"/><rect x="166.42" y="355.99" width="30.33" height="2.40" fill="rgb(250,131,131)"/><rect x="166.42" y="358.34" width="30.33" height="2.40" fill="rgb(250,169,169)"/><rect x="166.42" y="360.69" width="30.33" height="2.40" fill="rgb(250,126,126)"/><rect x="166.42" y="363.04" width="30.33" height="2.40" fill="rgb(250,143,143)"/><rect x="166.42" y="365.39" width="30.33" height="2.26" fill="rgb(250,155,155)"/><rect x="166.42" y="367.60" width="30.33" height="0.19" fill="rgb(250,45,45)"/><rect x="166.42" y="367.74" width="30.33" height="2.40" fill="rgb(250,62,62)"/><rect x="166.42" y="370.09" width="30.33" height="2.40" fill="rgb(250,39,39)"/><rect x="166.42" y="372.45" width="30.33" height="0.60" fill="rgb(250,52,52)"/><rect x="166.42" y="373.00" width="30.33" height="1.85" fill="rgb(250,100,100)"/><rect x="166.42" y="374.80" width="30.33" height="2.40" fill="rgb(250,84,84)"/><rect x="166.42" y="377.15" width="30.33" height="2.40" fill="rgb(250,97,97)"/></g><g><line x1="60.42" y1="22.50" x2="90.71" y2="22.50" stroke="#7a7a7a" stroke-width="0.80"/><line x1="60.42" y1="22.50" x2="60.42" y2="26.80" stroke="#7a7a7a" stroke-width="0.80"/><line x1="90.71" y1="22.50" x2="90.71" y2="26.80" stroke="#7a7a7a" stroke-width="0.80"/><line x1="30.14" y1="21.30" x2="75.57" y2="21.30" stroke="#7a7a7a" stroke-width="0.80"/><line x1="30.14" y1="21.30" x2="30.14" y2="26.80" stroke="#7a7a7a" stroke-width="0.80"/><line x1="75.57" y1="21.30" x2="75.57" y2="22.50" stroke="#7a7a7a" stroke-width="0.80"/><line x1="52.85" y1="7.40" x2="52.85" y2="21.30" stroke="#7a7a7a" stroke-width="0.80"/><line x1="52.85" y1="7.40" x2="143.70" y2="7.40" stroke="#7a7a7a" stroke-width="0.80"/><line x1="143.70" y1="7.40" x2="143.70" y2="20.30" stroke="#7a7a7a" stroke-width="0.80"/><line x1="151.27" y1="22.30" x2="181.56" y2="22.30" stroke="#7a7a7a" stroke-width="0.80"/><line x1="151.27" y1="22.30" x2="151.27" y2="26.80" stroke="#7a7a7a" stroke-width="0.80"/><line x1="181.56" y1="22.30" x2="181.56" y2="26.80" stroke="#7a7a7a" stroke-width="0.80"/><line x1="120.99" y1="20.30" x2="166.42" y2="20.30" stroke="#7a7a7a" stroke-width="0.80"/><line x1="120.99" y1="20.30" x2="120.99" y2="26.80" stroke="#7a7a7a" stroke-width="0.80"/><line x1="166.42" y1="20.30" x2="166.42" y2="22.30" stroke="#7a7a7a" stroke-width="0.80"/><line x1="13.80" y1="26.80" x2="13.80" y2="379.50" stroke="#666" stroke-width="0.70"/><line x1="8.20" y1="91.40" x2="13.80" y2="91.40" stroke="#7a7a7a" stroke-width="0.80"/><line x1="8.20" y1="91.40" x2="8.20" y2="231.00" stroke="#7a7a7a" stroke-width="0.80"/><line x1="8.20" y1="231.00" x2="13.80" y2="231.00" stroke="#7a7a7a" stroke-width="0.80"/></g><line x1="196.70" y1="29.80" x2="198.30" y2="29.80" stroke="#6a6a6a" stroke-width="0.50"/><line x1="196.70" y1="42.90" x2="198.30" y2="42.90" stroke="#6a6a6a" stroke-width="0.50"/><line x1="196.70" y1="49.75" x2="198.30" y2="49.75" stroke="#6a6a6a" stroke-width="0.50"/><line x1="196.70" y1="56.30" x2="198.30" y2="56.30" stroke="#6a6a6a" stroke-width="0.50"/><line x1="196.70" y1="63.97" x2="198.30" y2="63.97" stroke="#6a6a6a" stroke-width="0.50"/><line x1="196.70" y1="69.68" x2="198.30" y2="69.68" stroke="#6a6a6a" stroke-width="0.50"/><line x1="196.70" y1="77.42" x2="198.30" y2="77.42" stroke="#6a6a6a" stroke-width="0.50"/><line x1="196.70" y1="90.45" x2="198.30" y2="90.45" stroke="#6a6a6a" stroke-width="0.50"/><line x1="196.70" y1="97.41" x2="198.30" y2="97.41" stroke="#6a6a6a" stroke-width="0.50"/><line x1="196.70" y1="101.97" x2="198.30" y2="101.97" stroke="#6a6a6a" stroke-width="0.50"/><line x1="196.70" y1="106.71" x2="198.30" y2="106.71" stroke="#6a6a6a" stroke-width="0.50"/><line x1="196.70" y1="112.18" x2="198.30" y2="112.18" stroke="#6a6a6a" stroke-width="0.50"/><line x1="196.70" y1="118.53" x2="198.30" y2="118.53" stroke="#6a6a6a" stroke-width="0.50"/><line x1="196.70" y1="126.40" x2="198.30" y2="126.40" stroke="#6a6a6a" stroke-width="0.50"/><line x1="196.70" y1="133.46" x2="198.30" y2="133.46" stroke="#6a6a6a" stroke-width="0.50"/><line x1="196.70" y1="140.61" x2="198.30" y2="140.61" stroke="#6a6a6a" stroke-width="0.50"/><line x1="196.70" y1="162.04" x2="198.30" y2="162.04" stroke="#6a6a6a" stroke-width="0.50"/><line x1="196.70" y1="167.46" x2="198.30" y2="167.46" stroke="#6a6a6a" stroke-width="0.50"/><line x1="196.70" y1="192.28" x2="198.30" y2="192.28" stroke="#6a6a6a" stroke-width="0.50"/><line x1="196.70" y1="210.09" x2="198.30" y2="210.09" stroke="#6a6a6a" stroke-width="0.50"/><line x1="196.70" y1="222.68" x2="198.30" y2="222.68" stroke="#6a6a6a" stroke-width="0.50"/><line x1="196.70" y1="236.05" x2="198.30" y2="236.05" stroke="#6a6a6a" stroke-width="0.50"/><line x1="196.70" y1="241.53" x2="198.30" y2="241.53" stroke="#6a6a6a" stroke-width="0.50"/><line x1="196.70" y1="251.48" x2="198.30" y2="251.48" stroke="#6a6a6a" stroke-width="0.50"/><line x1="196.70" y1="257.77" x2="198.30" y2="257.77" stroke="#6a6a6a" stroke-width="0.50"/><line x1="196.70" y1="265.20" x2="198.30" y2="265.20" stroke="#6a6a6a" stroke-width="0.50"/><line x1="196.70" y1="272.27" x2="198.30" y2="272.27" stroke="#6a6a6a" stroke-width="0.50"/><line x1="196.70" y1="278.46" x2="198.30" y2="278.46" stroke="#6a6a6a" stroke-width="0.50"/><line x1="196.70" y1="291.75" x2="198.30" y2="291.75" stroke="#6a6a6a" stroke-width="0.50"/><line x1="196.70" y1="299.79" x2="198.30" y2="299.79" stroke="#6a6a6a" stroke-width="0.50"/><line x1="196.70" y1="312.93" x2="198.30" y2="312.93" stroke="#6a6a6a" stroke-width="0.50"/><line x1="196.70" y1="321.39" x2="198.30" y2="321.39" stroke="#6a6a6a" stroke-width="0.50"/><line x1="196.70" y1="332.74" x2="198.30" y2="332.74" stroke="#6a6a6a" stroke-width="0.50"/><line x1="196.70" y1="337.53" x2="198.30" y2="337.53" stroke="#6a6a6a" stroke-width="0.50"/><line x1="196.70" y1="344.36" x2="198.30" y2="344.36" stroke="#6a6a6a" stroke-width="0.50"/><line x1="196.70" y1="351.27" x2="198.30" y2="351.27" stroke="#6a6a6a" stroke-width="0.50"/><line x1="196.70" y1="364.02" x2="198.30" y2="364.02" stroke="#6a6a6a" stroke-width="0.50"/><line x1="196.70" y1="371.98" x2="198.30" y2="371.98" stroke="#6a6a6a" stroke-width="0.50"/><text x="106.5" y="6.3" font-size="4.7" font-weight="bold" fill="#222" text-anchor="middle">EV vs. KO</text><text x="0.9" y="11.4" font-size="14.2" font-weight="bold" fill="#000" stroke="#000" stroke-width="0.25">A</text><defs><linearGradient id="cb" x1="0" y1="0" x2="0" y2="1"><stop offset="0" stop-color="#ee1b1b"/><stop offset="0.5" stop-color="#f7f7fb"/><stop offset="1" stop-color="#1a1ae8"/></linearGradient><linearGradient id="pg" x1="0" y1="0" x2="0" y2="1"><stop offset="0" stop-color="#8a2be2"/><stop offset="0.12" stop-color="#6a70f0"/><stop offset="0.28" stop-color="#30c8f0"/><stop offset="0.38" stop-color="#20e6e0"/><stop offset="0.5" stop-color="#40e890"/><stop offset="0.62" stop-color="#80e030"/><stop offset="0.75" stop-color="#d0c010"/><stop offset="0.87" stop-color="#f07010"/><stop offset="1" stop-color="#f01010"/></linearGradient></defs><rect x="205.9" y="32.5" width="5.7" height="75.9" fill="url(#cb)"/><text x="213.2" y="36.0" font-size="5.2" fill="#222" stroke="#222" stroke-width="0.1">2</text><text x="213.2" y="53.9" font-size="5.2" fill="#222" stroke="#222" stroke-width="0.1">1</text><text x="213.2" y="72.9" font-size="5.2" fill="#222" stroke="#222" stroke-width="0.1">0</text><text x="212.5" y="90.5" font-size="5.2" fill="#222" stroke="#222" stroke-width="0.1">−1</text><text x="212.5" y="108.8" font-size="5.2" fill="#222" stroke="#222" stroke-width="0.1">−2</text><rect x="15.8" y="382.6" width="86.7" height="1.9" fill="#000"/><rect x="108" y="382.6" width="86.4" height="1.9" fill="#000"/><text x="63.2" y="397.7" font-size="8.8" font-weight="bold" font-style="italic" letter-spacing="0.35" text-anchor="middle" fill="#000">Prkn-/-</text><text x="155.9" y="397.7" font-size="8.8" font-weight="bold" font-style="italic" letter-spacing="0.1" text-anchor="middle" fill="#000">Prkn+/+</text><text x="240.0" y="11.6" font-size="14.2" font-weight="bold" fill="#000" stroke="#000" stroke-width="0.25">B</text><line x1="339.80" y1="14.20" x2="339.80" y2="198.00" stroke="#ebebeb" stroke-width="0.60"/><line x1="354.60" y1="14.20" x2="354.60" y2="198.00" stroke="#ebebeb" stroke-width="0.40"/><line x1="369.40" y1="14.20" x2="369.40" y2="198.00" stroke="#ebebeb" stroke-width="0.60"/><line x1="384.20" y1="14.20" x2="384.20" y2="198.00" stroke="#ebebeb" stroke-width="0.40"/><line x1="399.00" y1="14.20" x2="399.00" y2="198.00" stroke="#ebebeb" stroke-width="0.60"/><line x1="413.80" y1="14.20" x2="413.80" y2="198.00" stroke="#ebebeb" stroke-width="0.40"/><line x1="428.60" y1="14.20" x2="428.60" y2="198.00" stroke="#ebebeb" stroke-width="0.60"/><line x1="443.40" y1="14.20" x2="443.40" y2="198.00" stroke="#ebebeb" stroke-width="0.40"/><line x1="458.20" y1="14.20" x2="458.20" y2="198.00" stroke="#ebebeb" stroke-width="0.60"/><line x1="473.00" y1="14.20" x2="473.00" y2="198.00" stroke="#ebebeb" stroke-width="0.40"/><line x1="487.80" y1="14.20" x2="487.80" y2="198.00" stroke="#ebebeb" stroke-width="0.60"/><line x1="338.50" y1="19.60" x2="491.40" y2="19.60" stroke="#ebebeb" stroke-width="0.60"/><line x1="335.60" y1="19.60" x2="338.50" y2="19.60" stroke="#333" stroke-width="0.50"/><text x="335.2" y="21.20" font-size="4.86" text-anchor="end" fill="#111" stroke="#111" stroke-width="0.1">Thermogenesis</text><line x1="338.50" y1="28.73" x2="491.40" y2="28.73" stroke="#ebebeb" stroke-width="0.60"/><line x1="335.60" y1="28.73" x2="338.50" y2="28.73" stroke="#333" stroke-width="0.50"/><text x="335.2" y="30.33" font-size="4.86" text-anchor="end" fill="#111" stroke="#111" stroke-width="0.1">T cell receptor signaling pathway</text><line x1="338.50" y1="37.86" x2="491.40" y2="37.86" stroke="#ebebeb" stroke-width="0.60"/><line x1="335.60" y1="37.86" x2="338.50" y2="37.86" stroke="#333" stroke-width="0.50"/><text x="335.2" y="39.46" font-size="4.86" text-anchor="end" fill="#111" stroke="#111" stroke-width="0.1">Retrograde endocannabinoid signaling</text><line x1="338.50" y1="46.99" x2="491.40" y2="46.99" stroke="#ebebeb" stroke-width="0.60"/><line x1="335.60" y1="46.99" x2="338.50" y2="46.99" stroke="#333" stroke-width="0.50"/><text x="335.2" y="48.59" font-size="4.86" text-anchor="end" fill="#111" stroke="#111" stroke-width="0.1">Ras signaling pathway</text><line x1="338.50" y1="56.12" x2="491.40" y2="56.12" stroke="#ebebeb" stroke-width="0.60"/><line x1="335.60" y1="56.12" x2="338.50" y2="56.12" stroke="#333" stroke-width="0.50"/><text x="335.2" y="57.72" font-size="4.86" text-anchor="end" fill="#111" stroke="#111" stroke-width="0.1">Protein digestion and absorption</text><line x1="338.50" y1="65.25" x2="491.40" y2="65.25" stroke="#ebebeb" stroke-width="0.60"/><line x1="335.60" y1="65.25" x2="338.50" y2="65.25" stroke="#333" stroke-width="0.50"/><text x="335.2" y="66.85" font-size="4.86" text-anchor="end" fill="#111" stroke="#111" stroke-width="0.1">PPAR signaling pathway</text><line x1="338.50" y1="74.38" x2="491.40" y2="74.38" stroke="#ebebeb" stroke-width="0.60"/><line x1="335.60" y1="74.38" x2="338.50" y2="74.38" stroke="#333" stroke-width="0.50"/><text x="335.2" y="75.98" font-size="4.86" text-anchor="end" fill="#111" stroke="#111" stroke-width="0.1">Phagosome</text><line x1="338.50" y1="83.51" x2="491.40" y2="83.51" stroke="#ebebeb" stroke-width="0.60"/><line x1="335.60" y1="83.51" x2="338.50" y2="83.51" stroke="#333" stroke-width="0.50"/><text x="335.2" y="85.11" font-size="4.86" text-anchor="end" fill="#111" stroke="#111" stroke-width="0.1">Parkinson disease</text><line x1="338.50" y1="92.64" x2="491.40" y2="92.64" stroke="#ebebeb" stroke-width="0.60"/><line x1="335.60" y1="92.64" x2="338.50" y2="92.64" stroke="#333" stroke-width="0.50"/><text x="335.2" y="94.24" font-size="4.86" text-anchor="end" fill="#111" stroke="#111" stroke-width="0.1">Oxidative phosphorylation</text><line x1="338.50" y1="101.77" x2="491.40" y2="101.77" stroke="#ebebeb" stroke-width="0.60"/><line x1="335.60" y1="101.77" x2="338.50" y2="101.77" stroke="#333" stroke-width="0.50"/><text x="335.2" y="103.37" font-size="4.86" text-anchor="end" fill="#111" stroke="#111" stroke-width="0.1">Morphine addiction</text><line x1="338.50" y1="110.90" x2="491.40" y2="110.90" stroke="#ebebeb" stroke-width="0.60"/><line x1="335.60" y1="110.90" x2="338.50" y2="110.90" stroke="#333" stroke-width="0.50"/><text x="335.2" y="112.50" font-size="4.86" text-anchor="end" fill="#111" stroke="#111" stroke-width="0.1">Leukocyte transendothelial migration</text><line x1="338.50" y1="120.03" x2="491.40" y2="120.03" stroke="#ebebeb" stroke-width="0.60"/><line x1="335.60" y1="120.03" x2="338.50" y2="120.03" stroke="#333" stroke-width="0.50"/><text x="335.2" y="121.63" font-size="4.86" text-anchor="end" fill="#111" stroke="#111" stroke-width="0.1">Huntington disease</text><line x1="338.50" y1="129.16" x2="491.40" y2="129.16" stroke="#ebebeb" stroke-width="0.60"/><line x1="335.60" y1="129.16" x2="338.50" y2="129.16" stroke="#333" stroke-width="0.50"/><text x="335.2" y="130.76" font-size="4.86" text-anchor="end" fill="#111" stroke="#111" stroke-width="0.1">GABAergic synapse</text><line x1="338.50" y1="138.29" x2="491.40" y2="138.29" stroke="#ebebeb" stroke-width="0.60"/><line x1="335.60" y1="138.29" x2="338.50" y2="138.29" stroke="#333" stroke-width="0.50"/><text x="335.2" y="139.89" font-size="4.86" text-anchor="end" fill="#111" stroke="#111" stroke-width="0.1">Ferroptosis</text><line x1="338.50" y1="147.42" x2="491.40" y2="147.42" stroke="#ebebeb" stroke-width="0.60"/><line x1="335.60" y1="147.42" x2="338.50" y2="147.42" stroke="#333" stroke-width="0.50"/><text x="335.2" y="149.02" font-size="4.86" text-anchor="end" fill="#111" stroke="#111" stroke-width="0.1">Cushing syndrome</text><line x1="338.50" y1="156.55" x2="491.40" y2="156.55" stroke="#ebebeb" stroke-width="0.60"/><line x1="335.60" y1="156.55" x2="338.50" y2="156.55" stroke="#333" stroke-width="0.50"/><text x="335.2" y="158.15" font-size="4.86" text-anchor="end" fill="#111" stroke="#111" stroke-width="0.1">Cholesterol metabolism</text><line x1="338.50" y1="165.68" x2="491.40" y2="165.68" stroke="#ebebeb" stroke-width="0.60"/><line x1="335.60" y1="165.68" x2="338.50" y2="165.68" stroke="#333" stroke-width="0.50"/><text x="335.2" y="167.28" font-size="4.86" text-anchor="end" fill="#111" stroke="#111" stroke-width="0.1">Cell adhesion molecules (CAMs)</text><line x1="338.50" y1="174.81" x2="491.40" y2="174.81" stroke="#ebebeb" stroke-width="0.60"/><line x1="335.60" y1="174.81" x2="338.50" y2="174.81" stroke="#333" stroke-width="0.50"/><text x="335.2" y="176.41" font-size="4.86" text-anchor="end" fill="#111" stroke="#111" stroke-width="0.1">Axon guidance</text><line x1="338.50" y1="183.94" x2="491.40" y2="183.94" stroke="#ebebeb" stroke-width="0.60"/><line x1="335.60" y1="183.94" x2="338.50" y2="183.94" stroke="#333" stroke-width="0.50"/><text x="335.2" y="185.54" font-size="4.86" text-anchor="end" fill="#111" stroke="#111" stroke-width="0.1">AGE-RAGE signaling pathway in ...</text><line x1="338.50" y1="193.07" x2="491.40" y2="193.07" stroke="#ebebeb" stroke-width="0.60"/><line x1="335.60" y1="193.07" x2="338.50" y2="193.07" stroke="#333" stroke-width="0.50"/><text x="335.2" y="194.67" font-size="4.86" text-anchor="end" fill="#111" stroke="#111" stroke-width="0.1">Acute myeloid leukemia</text><circle cx="484.07" cy="19.60" r="3.25" fill="rgb(112,224,62)"/><circle cx="367.54" cy="28.73" r="1.70" fill="rgb(66,226,214)"/><circle cx="414.15" cy="37.86" r="2.35" fill="rgb(112,224,62)"/><circle cx="437.46" cy="46.99" r="2.70" fill="rgb(66,226,214)"/><circle cx="344.23" cy="56.12" r="0.75" fill="rgb(66,226,214)"/><circle cx="344.23" cy="65.25" r="0.75" fill="rgb(66,226,214)"/><circle cx="437.46" cy="74.38" r="2.70" fill="rgb(112,224,62)"/><circle cx="484.07" cy="83.51" r="3.25" fill="rgb(236,112,14)"/><circle cx="460.76" cy="92.64" r="2.95" fill="rgb(214,152,26)"/><circle cx="367.54" cy="101.77" r="1.70" fill="rgb(112,224,62)"/><circle cx="367.54" cy="110.90" r="1.70" fill="rgb(66,226,214)"/><circle cx="437.46" cy="120.03" r="2.70" fill="rgb(66,226,214)"/><circle cx="344.23" cy="129.16" r="0.75" fill="rgb(66,226,214)"/><circle cx="344.23" cy="138.29" r="0.75" fill="rgb(112,224,62)"/><circle cx="414.15" cy="147.42" r="2.35" fill="rgb(112,224,62)"/><circle cx="344.23" cy="156.55" r="0.75" fill="rgb(176,214,64)"/><circle cx="414.15" cy="165.68" r="2.35" fill="rgb(112,224,62)"/><circle cx="484.07" cy="174.81" r="3.25" fill="rgb(214,152,26)"/><circle cx="367.54" cy="183.94" r="1.70" fill="rgb(66,226,214)"/><circle cx="367.54" cy="193.07" r="1.70" fill="rgb(112,224,62)"/><rect x="338.50" y="14.20" width="152.90" height="183.80" fill="none" stroke="#8a8a8a" stroke-width="0.7"/><line x1="338.50" y1="198.00" x2="491.40" y2="198.00" stroke="#555" stroke-width="0.80"/><line x1="339.80" y1="198.00" x2="339.80" y2="199.80" stroke="#333" stroke-width="0.50"/><text x="340.20" y="205.1" font-size="4.8" text-anchor="middle" fill="#222" stroke="#222" stroke-width="0.1">0.03</text><line x1="369.40" y1="198.00" x2="369.40" y2="199.80" stroke="#333" stroke-width="0.50"/><text x="369.80" y="205.1" font-size="4.8" text-anchor="middle" fill="#222" stroke="#222" stroke-width="0.1">0.04</text><line x1="399.00" y1="198.00" x2="399.00" y2="199.80" stroke="#333" stroke-width="0.50"/><text x="399.40" y="205.1" font-size="4.8" text-anchor="middle" fill="#222" stroke="#222" stroke-width="0.1">0.05</text><line x1="428.60" y1="198.00" x2="428.60" y2="199.80" stroke="#333" stroke-width="0.50"/><text x="429.00" y="205.1" font-size="4.8" text-anchor="middle" fill="#222" stroke="#222" stroke-width="0.1">0.06</text><line x1="458.20" y1="198.00" x2="458.20" y2="199.80" stroke="#333" stroke-width="0.50"/><text x="458.60" y="205.1" font-size="4.8" text-anchor="middle" fill="#222" stroke="#222" stroke-width="0.1">0.07</text><line x1="487.80" y1="198.00" x2="487.80" y2="199.80" stroke="#333" stroke-width="0.50"/><text x="488.20" y="205.1" font-size="4.8" text-anchor="middle" fill="#222" stroke="#222" stroke-width="0.1">0.08</text><text x="414.7" y="212.9" font-size="5.45" text-anchor="middle" fill="#111" stroke="#111" stroke-width="0.1">GeneRatio</text><text x="498.3" y="44.8" font-size="8" font-style="italic" fill="#111" stroke="#111" stroke-width="0.2">P<tspan font-size="5" font-style="normal" dy="1.9">adj</tspan></text><rect x="499.9" y="49.4" width="7.4" height="42.3" fill="url(#pg)"/><text x="509.4" y="52.70" font-size="3.5" fill="#111" stroke="#111" stroke-width="0.12">1.00</text><text x="509.4" y="62.20" font-size="3.5" fill="#111" stroke="#111" stroke-width="0.12">0.75</text><text x="509.4" y="72.40" font-size="3.5" fill="#111" stroke="#111" stroke-width="0.12">0.50</text><text x="509.4" y="82.30" font-size="3.5" fill="#111" stroke="#111" stroke-width="0.12">0.25</text><text x="509.4" y="92.50" font-size="3.5" fill="#111" stroke="#111" stroke-width="0.12">0.00</text><text x="500" y="107" font-size="5.5" fill="#111" stroke="#111" stroke-width="0.1">Count</text><circle cx="504.4" cy="113.50" r="0.75" fill="#000"/><text x="509.4" y="114.70" font-size="3.5" fill="#111" stroke="#111" stroke-width="0.12">4</text><circle cx="504.4" cy="122.30" r="1.35" fill="#000"/><text x="509.4" y="123.50" font-size="3.5" fill="#111" stroke="#111" stroke-width="0.12">5</text><circle cx="504.4" cy="129.70" r="1.80" fill="#000"/><text x="509.4" y="130.90" font-size="3.5" fill="#111" stroke="#111" stroke-width="0.12">6</text><circle cx="504.4" cy="138.40" r="2.10" fill="#000"/><text x="509.4" y="139.60" font-size="3.5" fill="#111" stroke="#111" stroke-width="0.12">7</text><circle cx="504.4" cy="146.80" r="2.45" fill="#000"/><text x="509.4" y="148.00" font-size="3.5" fill="#111" stroke="#111" stroke-width="0.12">8</text><circle cx="504.4" cy="155.30" r="2.75" fill="#000"/><text x="509.4" y="156.50" font-size="3.5" fill="#111" stroke="#111" stroke-width="0.12">9</text><circle cx="504.4" cy="163.50" r="3.15" fill="#000"/><text x="509.4" y="164.70" font-size="3.5" fill="#111" stroke="#111" stroke-width="0.12">10</text><text x="240.2" y="228.8" font-size="14.2" font-weight="bold" fill="#000" stroke="#000" stroke-width="0.25">C</text><text x="372.8" y="232.50" font-size="5.43" text-anchor="end" fill="#111" stroke="#111" stroke-width="0.1">Protein digestion and absorption (<tspan font-style="italic">n</tspan> = 13)</text><rect x="380.6" y="227.80" width="112.32" height="5.6" fill="#5699de" stroke="#2f5680" stroke-width="0.7"/><line x1="380.60" y1="227.80" x2="493.92" y2="227.80" stroke="#2a3f5a" stroke-width="0.60"/><text x="372.8" y="239.74" font-size="5.43" text-anchor="end" fill="#111" stroke="#111" stroke-width="0.1">Cytokine-cytokine receptor interaction (<tspan font-style="italic">n</tspan> = 19)</text><rect x="380.6" y="235.04" width="79.20" height="5.6" fill="#5699de" stroke="#2f5680" stroke-width="0.7"/><line x1="380.60" y1="235.04" x2="460.80" y2="235.04" stroke="#2a3f5a" stroke-width="0.60"/><text x="372.8" y="246.98" font-size="5.43" text-anchor="end" fill="#111" stroke="#111" stroke-width="0.1">ECM-receptor interaction (<tspan font-style="italic">n</tspan> = 11)</text><rect x="380.6" y="242.28" width="68.23" height="5.6" fill="#5699de" stroke="#2f5680" stroke-width="0.7"/><line x1="380.60" y1="242.28" x2="449.83" y2="242.28" stroke="#2a3f5a" stroke-width="0.60"/><text x="372.8" y="254.22" font-size="5.43" text-anchor="end" fill="#111" stroke="#111" stroke-width="0.1">Focal adhesion (<tspan font-style="italic">n</tspan> = 17)</text><rect x="380.6" y="249.52" width="68.23" height="5.6" fill="#5699de" stroke="#2f5680" stroke-width="0.7"/><line x1="380.60" y1="249.52" x2="449.83" y2="249.52" stroke="#2a3f5a" stroke-width="0.60"/><text x="372.8" y="261.46" font-size="5.43" text-anchor="end" fill="#111" stroke="#111" stroke-width="0.1">IL17 signaling pathway (<tspan font-style="italic">n</tspan> = 9)</text><rect x="380.6" y="256.76" width="41.90" height="5.6" fill="#5699de" stroke="#2f5680" stroke-width="0.7"/><line x1="380.60" y1="256.76" x2="423.50" y2="256.76" stroke="#2a3f5a" stroke-width="0.60"/><text x="372.8" y="268.70" font-size="5.43" text-anchor="end" fill="#111" stroke="#111" stroke-width="0.1">PI3K-Akt signaling pathway (<tspan font-style="italic">n</tspan> = 19)</text><rect x="380.6" y="264.00" width="39.10" height="5.6" fill="#5699de" stroke="#2f5680" stroke-width="0.7"/><line x1="380.60" y1="264.00" x2="420.70" y2="264.00" stroke="#2a3f5a" stroke-width="0.60"/><text x="372.8" y="275.94" font-size="5.43" text-anchor="end" fill="#111" stroke="#111" stroke-width="0.1">Chemokine signaling pathway (<tspan font-style="italic">n</tspan> = 12)</text><rect x="380.6" y="271.24" width="29.13" height="5.6" fill="#5699de" stroke="#2f5680" stroke-width="0.7"/><line x1="380.60" y1="271.24" x2="410.73" y2="271.24" stroke="#2a3f5a" stroke-width="0.60"/><text x="372.8" y="283.18" font-size="5.43" text-anchor="end" fill="#111" stroke="#111" stroke-width="0.1">Starch and sucrose metabolism (<tspan font-style="italic">n</tspan> = 4)</text><rect x="380.6" y="278.48" width="21.55" height="5.6" fill="#5699de" stroke="#2f5680" stroke-width="0.7"/><line x1="380.60" y1="278.48" x2="403.15" y2="278.48" stroke="#2a3f5a" stroke-width="0.60"/><text x="372.8" y="290.42" font-size="5.43" text-anchor="end" fill="#111" stroke="#111" stroke-width="0.1">Human papillomavirus infection (<tspan font-style="italic">n</tspan> = 16)</text><rect x="380.6" y="285.72" width="17.16" height="5.6" fill="#5699de" stroke="#2f5680" stroke-width="0.7"/><line x1="380.60" y1="285.72" x2="398.76" y2="285.72" stroke="#2a3f5a" stroke-width="0.60"/><text x="372.8" y="297.66" font-size="5.43" text-anchor="end" fill="#111" stroke="#111" stroke-width="0.1">MicroRNAs in cancer (<tspan font-style="italic">n</tspan> = 9)</text><rect x="380.6" y="292.96" width="15.36" height="5.6" fill="#5699de" stroke="#2f5680" stroke-width="0.7"/><line x1="380.60" y1="292.96" x2="396.96" y2="292.96" stroke="#2a3f5a" stroke-width="0.60"/><text x="372.8" y="304.90" font-size="5.43" text-anchor="end" fill="#111" stroke="#111" stroke-width="0.1">Rheumatoid arthritis (<tspan font-style="italic">n</tspan> = 6)</text><rect x="380.6" y="300.20" width="13.96" height="5.6" fill="#5699de" stroke="#2f5680" stroke-width="0.7"/><line x1="380.60" y1="300.20" x2="395.56" y2="300.20" stroke="#2a3f5a" stroke-width="0.60"/><text x="372.8" y="312.14" font-size="5.43" text-anchor="end" fill="#111" stroke="#111" stroke-width="0.1">Leukocyte transendothelial migration (<tspan font-style="italic">n</tspan> = 7)</text><rect x="380.6" y="307.44" width="13.77" height="5.6" fill="#5699de" stroke="#2f5680" stroke-width="0.7"/><line x1="380.60" y1="307.44" x2="395.37" y2="307.44" stroke="#2a3f5a" stroke-width="0.60"/><text x="372.8" y="319.38" font-size="5.43" text-anchor="end" fill="#111" stroke="#111" stroke-width="0.1">AGE-RAGE signaling pathway ... (<tspan font-style="italic">n</tspan> = 7)</text><rect x="380.6" y="314.68" width="13.37" height="5.6" fill="#5699de" stroke="#2f5680" stroke-width="0.7"/><line x1="380.60" y1="314.68" x2="394.97" y2="314.68" stroke="#2a3f5a" stroke-width="0.60"/><text x="372.8" y="326.62" font-size="5.43" text-anchor="end" fill="#111" stroke="#111" stroke-width="0.1">TNF signaling pathway (<tspan font-style="italic">n</tspan> = 7)</text><rect x="380.6" y="321.92" width="10.17" height="5.6" fill="#5699de" stroke="#2f5680" stroke-width="0.7"/><line x1="380.60" y1="321.92" x2="391.77" y2="321.92" stroke="#2a3f5a" stroke-width="0.60"/><text x="372.8" y="333.86" font-size="5.43" text-anchor="end" fill="#111" stroke="#111" stroke-width="0.1">Pentose phosphate pathway (<tspan font-style="italic">n</tspan> = 3)</text><rect x="380.6" y="329.16" width="8.38" height="5.6" fill="#5699de" stroke="#2f5680" stroke-width="0.7"/><line x1="380.60" y1="329.16" x2="389.98" y2="329.16" stroke="#2a3f5a" stroke-width="0.60"/><text x="372.8" y="341.10" font-size="5.43" text-anchor="end" fill="#111" stroke="#111" stroke-width="0.1">Phagosome (<tspan font-style="italic">n</tspan> = 8)</text><rect x="380.6" y="336.40" width="8.38" height="5.6" fill="#5699de" stroke="#2f5680" stroke-width="0.7"/><line x1="380.60" y1="336.40" x2="389.98" y2="336.40" stroke="#2a3f5a" stroke-width="0.60"/><text x="372.8" y="348.34" font-size="5.43" text-anchor="end" fill="#111" stroke="#111" stroke-width="0.1">Fat digestion and absorption (<tspan font-style="italic">n</tspan> = 3)</text><rect x="380.6" y="343.64" width="8.38" height="5.6" fill="#5699de" stroke="#2f5680" stroke-width="0.7"/><line x1="380.60" y1="343.64" x2="389.98" y2="343.64" stroke="#2a3f5a" stroke-width="0.60"/><text x="372.8" y="355.58" font-size="5.43" text-anchor="end" fill="#111" stroke="#111" stroke-width="0.1">Malaria (<tspan font-style="italic">n</tspan> = 4)</text><rect x="380.6" y="350.88" width="8.38" height="5.6" fill="#5699de" stroke="#2f5680" stroke-width="0.7"/><line x1="380.60" y1="350.88" x2="389.98" y2="350.88" stroke="#2a3f5a" stroke-width="0.60"/><text x="372.8" y="362.82" font-size="5.43" text-anchor="end" fill="#111" stroke="#111" stroke-width="0.1">JAK-STAT signaling pathway (<tspan font-style="italic">n</tspan> = 7)</text><rect x="380.6" y="358.12" width="8.18" height="5.6" fill="#5699de" stroke="#2f5680" stroke-width="0.7"/><line x1="380.60" y1="358.12" x2="389.78" y2="358.12" stroke="#2a3f5a" stroke-width="0.60"/><text x="372.8" y="370.06" font-size="5.43" text-anchor="end" fill="#111" stroke="#111" stroke-width="0.1">Arachidonic acid metabolism (<tspan font-style="italic">n</tspan> = 4)</text><rect x="380.6" y="365.36" width="8.38" height="5.6" fill="#5699de" stroke="#2f5680" stroke-width="0.7"/><line x1="380.60" y1="365.36" x2="389.98" y2="365.36" stroke="#2a3f5a" stroke-width="0.60"/><line x1="380.60" y1="376.30" x2="500.50" y2="376.30" stroke="#333" stroke-width="0.70"/><line x1="380.60" y1="376.30" x2="380.60" y2="378.80" stroke="#333" stroke-width="0.70"/><text x="380.60" y="391.6" font-size="7.8" text-anchor="middle" fill="#111" stroke="#111" stroke-width="0.25">0</text><line x1="400.55" y1="376.30" x2="400.55" y2="378.80" stroke="#333" stroke-width="0.70"/><text x="400.55" y="391.6" font-size="7.8" text-anchor="middle" fill="#111" stroke="#111" stroke-width="0.25">1</text><line x1="420.50" y1="376.30" x2="420.50" y2="378.80" stroke="#333" stroke-width="0.70"/><text x="420.50" y="391.6" font-size="7.8" text-anchor="middle" fill="#111" stroke="#111" stroke-width="0.25">2</text><line x1="440.45" y1="376.30" x2="440.45" y2="378.80" stroke="#333" stroke-width="0.70"/><text x="440.45" y="391.6" font-size="7.8" text-anchor="middle" fill="#111" stroke="#111" stroke-width="0.25">3</text><line x1="460.40" y1="376.30" x2="460.40" y2="378.80" stroke="#333" stroke-width="0.70"/><text x="460.40" y="391.6" font-size="7.8" text-anchor="middle" fill="#111" stroke="#111" stroke-width="0.25">4</text><line x1="480.35" y1="376.30" x2="480.35" y2="378.80" stroke="#333" stroke-width="0.70"/><text x="480.35" y="391.6" font-size="7.8" text-anchor="middle" fill="#111" stroke="#111" stroke-width="0.25">5</text><line x1="500.30" y1="376.30" x2="500.30" y2="378.80" stroke="#333" stroke-width="0.70"/><text x="500.30" y="391.6" font-size="7.8" text-anchor="middle" fill="#111" stroke="#111" stroke-width="0.25">6</text><text x="441.6" y="401.4" font-size="8.2" text-anchor="middle" fill="#111" stroke="#111" stroke-width="0.15">-log<tspan font-size="5.4" dy="1.8">10</tspan><tspan dy="-1.8"> (</tspan><tspan font-style="italic">P</tspan><tspan font-size="5.4" dy="1.8">adj</tspan><tspan dy="-1.8">)</tspan></text><text x="54.0" y="421.0" font-size="14.2" font-weight="bold" fill="#000" stroke="#000" stroke-width="0.25">D</text><text x="161.0" y="421.3" font-size="14.2" font-weight="bold" fill="#000" stroke="#000" stroke-width="0.25">E</text><line x1="80.80" y1="430.30" x2="80.80" y2="511.20" stroke="#2a2a2a" stroke-width="1.10"/><line x1="80.25" y1="511.20" x2="157.70" y2="511.20" stroke="#2a2a2a" stroke-width="1.10"/><line x1="77.40" y1="511.20" x2="80.80" y2="511.20" stroke="#2a2a2a" stroke-width="0.90"/><text x="76.40" y="513.40" font-size="6.2" font-weight="bold" text-anchor="end" fill="#222" stroke="#222" stroke-width="0.15">0.0</text><line x1="77.40" y1="484.40" x2="80.80" y2="484.40" stroke="#2a2a2a" stroke-width="0.90"/><text x="76.40" y="486.60" font-size="6.2" font-weight="bold" text-anchor="end" fill="#222" stroke="#222" stroke-width="0.15">0.5</text><line x1="77.40" y1="457.60" x2="80.80" y2="457.60" stroke="#2a2a2a" stroke-width="0.90"/><text x="76.40" y="459.80" font-size="6.2" font-weight="bold" text-anchor="end" fill="#222" stroke="#222" stroke-width="0.15">1.0</text><line x1="77.40" y1="430.80" x2="80.80" y2="430.80" stroke="#2a2a2a" stroke-width="0.90"/><text x="76.40" y="433.00" font-size="6.2" font-weight="bold" text-anchor="end" fill="#222" stroke="#222" stroke-width="0.15">1.5</text><rect x="92.40" y="457.60" width="22.00" height="53.60" fill="#fff" stroke="#5aa2e2" stroke-width="1.2"/><line x1="103.40" y1="511.20" x2="103.40" y2="514.20" stroke="#2a2a2a" stroke-width="0.90"/><line x1="103.40" y1="450.52" x2="103.40" y2="465.21" stroke="#222" stroke-width="0.90"/><line x1="98.60" y1="450.52" x2="108.20" y2="450.52" stroke="#222" stroke-width="0.90"/><line x1="98.60" y1="465.21" x2="108.20" y2="465.21" stroke="#222" stroke-width="0.90"/><circle cx="103.00" cy="447.60" r="1.85" fill="#fff" stroke="#222" stroke-width="0.95"/><circle cx="96.60" cy="455.40" r="1.85" fill="#fff" stroke="#222" stroke-width="0.95"/><circle cx="103.00" cy="455.20" r="1.85" fill="#fff" stroke="#222" stroke-width="0.95"/><circle cx="109.90" cy="457.00" r="1.85" fill="#fff" stroke="#222" stroke-width="0.95"/><circle cx="99.70" cy="467.70" r="1.85" fill="#fff" stroke="#222" stroke-width="0.95"/><circle cx="106.50" cy="465.20" r="1.85" fill="#fff" stroke="#222" stroke-width="0.95"/><rect x="126.20" y="489.76" width="22.10" height="21.44" fill="#fff" stroke="#b0b0b0" stroke-width="1.2"/><line x1="137.25" y1="511.20" x2="137.25" y2="514.20" stroke="#2a2a2a" stroke-width="0.90"/><line x1="137.25" y1="488.15" x2="137.25" y2="490.83" stroke="#222" stroke-width="0.90"/><line x1="132.45" y1="488.15" x2="142.05" y2="488.15" stroke="#222" stroke-width="0.90"/><line x1="132.45" y1="490.83" x2="142.05" y2="490.83" stroke="#222" stroke-width="0.90"/><circle cx="127.80" cy="490.30" r="1.6" fill="#111"/><circle cx="131.50" cy="488.10" r="1.6" fill="#111"/><circle cx="136.00" cy="488.60" r="1.6" fill="#111"/><circle cx="140.00" cy="488.20" r="1.6" fill="#111"/><circle cx="145.50" cy="487.90" r="1.6" fill="#111"/><circle cx="147.20" cy="490.50" r="1.6" fill="#111"/><polyline points="103.20,444.20 103.20,438.10 137.20,438.10 137.20,482.30" fill="none" stroke="#222" stroke-width="1.0"/><text x="120.85" y="436.80" font-size="8.5" font-weight="bold" text-anchor="middle" letter-spacing="1.3" fill="#111" stroke="#111" stroke-width="0.7">****</text><text transform="translate(62.50,470.80) rotate(-90)" font-size="6.40" font-weight="bold" text-anchor="middle" fill="#222" stroke="#222" stroke-width="0.12">Relative ATP levels</text><text transform="translate(106.50,519.20) rotate(-45)" font-size="7.0" font-weight="bold" text-anchor="end" fill="#222" stroke="#222" stroke-width="0.1">EV</text><text transform="translate(140.20,519.20) rotate(-45)" font-size="7.0" font-weight="bold" text-anchor="end" fill="#222" stroke="#222" stroke-width="0.1">KO</text><text x="119.60" y="538.30" font-size="7.0" text-anchor="middle" fill="#333">A498</text><line x1="80.80" y1="552.65" x2="80.80" y2="632.50" stroke="#2a2a2a" stroke-width="1.10"/><line x1="80.25" y1="632.50" x2="157.00" y2="632.50" stroke="#2a2a2a" stroke-width="1.10"/><line x1="77.40" y1="632.50" x2="80.80" y2="632.50" stroke="#2a2a2a" stroke-width="0.90"/><text x="76.40" y="634.70" font-size="6.2" font-weight="bold" text-anchor="end" fill="#222" stroke="#222" stroke-width="0.15">0.0</text><line x1="77.40" y1="606.05" x2="80.80" y2="606.05" stroke="#2a2a2a" stroke-width="0.90"/><text x="76.40" y="608.25" font-size="6.2" font-weight="bold" text-anchor="end" fill="#222" stroke="#222" stroke-width="0.15">0.5</text><line x1="77.40" y1="579.60" x2="80.80" y2="579.60" stroke="#2a2a2a" stroke-width="0.90"/><text x="76.40" y="581.80" font-size="6.2" font-weight="bold" text-anchor="end" fill="#222" stroke="#222" stroke-width="0.15">1.0</text><line x1="77.40" y1="553.15" x2="80.80" y2="553.15" stroke="#2a2a2a" stroke-width="0.90"/><text x="76.40" y="555.35" font-size="6.2" font-weight="bold" text-anchor="end" fill="#222" stroke="#222" stroke-width="0.15">1.5</text><rect x="92.40" y="580.13" width="22.00" height="52.37" fill="#fff" stroke="#5aa2e2" stroke-width="1.2"/><line x1="103.40" y1="632.50" x2="103.40" y2="635.50" stroke="#2a2a2a" stroke-width="0.90"/><line x1="103.40" y1="570.82" x2="103.40" y2="587.01" stroke="#222" stroke-width="0.90"/><line x1="98.60" y1="570.82" x2="108.20" y2="570.82" stroke="#222" stroke-width="0.90"/><line x1="98.60" y1="587.01" x2="108.20" y2="587.01" stroke="#222" stroke-width="0.90"/><circle cx="103.00" cy="564.60" r="1.85" fill="#fff" stroke="#222" stroke-width="0.95"/><circle cx="103.00" cy="571.60" r="1.85" fill="#fff" stroke="#222" stroke-width="0.95"/><circle cx="106.50" cy="581.50" r="1.85" fill="#fff" stroke="#222" stroke-width="0.95"/><circle cx="99.70" cy="584.50" r="1.85" fill="#fff" stroke="#222" stroke-width="0.95"/><circle cx="106.50" cy="585.20" r="1.85" fill="#fff" stroke="#222" stroke-width="0.95"/><circle cx="99.70" cy="588.50" r="1.85" fill="#fff" stroke="#222" stroke-width="0.95"/><rect x="126.80" y="621.50" width="21.50" height="11.00" fill="#fff" stroke="#b0b0b0" stroke-width="1.2"/><line x1="137.55" y1="632.50" x2="137.55" y2="635.50" stroke="#2a2a2a" stroke-width="0.90"/><line x1="137.55" y1="615.89" x2="137.55" y2="619.59" stroke="#222" stroke-width="0.90"/><line x1="132.75" y1="615.89" x2="142.35" y2="615.89" stroke="#222" stroke-width="0.90"/><line x1="132.75" y1="619.59" x2="142.35" y2="619.59" stroke="#222" stroke-width="0.90"/><circle cx="127.40" cy="622.00" r="1.6" fill="#111"/><circle cx="132.30" cy="620.20" r="1.6" fill="#111"/><circle cx="137.20" cy="616.50" r="1.6" fill="#111"/><circle cx="137.20" cy="621.50" r="1.6" fill="#111"/><circle cx="142.20" cy="620.20" r="1.6" fill="#111"/><circle cx="147.70" cy="622.00" r="1.6" fill="#111"/><polyline points="103.00,559.90 103.00,553.60 137.40,553.60 137.40,611.60" fill="none" stroke="#222" stroke-width="1.0"/><text x="120.85" y="553.80" font-size="8.5" font-weight="bold" text-anchor="middle" letter-spacing="1.3" fill="#111" stroke="#111" stroke-width="0.7">****</text><text transform="translate(62.50,593.20) rotate(-90)" font-size="6.40" font-weight="bold" text-anchor="middle" fill="#222" stroke="#222" stroke-width="0.12">Relative ATP levels</text><text transform="translate(106.50,640.50) rotate(-45)" font-size="6.0" font-weight="bold" text-anchor="end" fill="#222" stroke="#222" stroke-width="0.1">pLKO.1</text><text transform="translate(140.40,640.50) rotate(-45)" font-size="6.6" font-weight="bold" text-anchor="end" fill="#222" stroke="#222" stroke-width="0.1">KD</text><text x="118.50" y="659.10" font-size="7.0" text-anchor="middle" fill="#333">RENCA</text><line x1="182.30" y1="431.02" x2="182.30" y2="511.20" stroke="#2a2a2a" stroke-width="1.10"/><line x1="181.75" y1="511.20" x2="263.00" y2="511.20" stroke="#2a2a2a" stroke-width="1.10"/><line x1="178.90" y1="511.20" x2="182.30" y2="511.20" stroke="#2a2a2a" stroke-width="0.90"/><text x="177.90" y="513.40" font-size="6.2" font-weight="bold" text-anchor="end" fill="#222" stroke="#222" stroke-width="0.15">0</text><line x1="178.90" y1="484.64" x2="182.30" y2="484.64" stroke="#2a2a2a" stroke-width="0.90"/><text x="177.90" y="486.84" font-size="6.2" font-weight="bold" text-anchor="end" fill="#222" stroke="#222" stroke-width="0.15">2</text><line x1="178.90" y1="458.08" x2="182.30" y2="458.08" stroke="#2a2a2a" stroke-width="0.90"/><text x="177.90" y="460.28" font-size="6.2" font-weight="bold" text-anchor="end" fill="#222" stroke="#222" stroke-width="0.15">4</text><line x1="178.90" y1="431.52" x2="182.30" y2="431.52" stroke="#2a2a2a" stroke-width="0.90"/><text x="177.90" y="433.72" font-size="6.2" font-weight="bold" text-anchor="end" fill="#222" stroke="#222" stroke-width="0.15">6</text><rect x="193.80" y="498.45" width="23.10" height="12.75" fill="#fff" stroke="#5aa2e2" stroke-width="1.2"/><line x1="205.35" y1="511.20" x2="205.35" y2="514.20" stroke="#2a2a2a" stroke-width="0.90"/><line x1="205.35" y1="490.88" x2="205.35" y2="505.36" stroke="#222" stroke-width="0.90"/><line x1="200.55" y1="490.88" x2="210.15" y2="490.88" stroke="#222" stroke-width="0.90"/><line x1="200.55" y1="505.36" x2="210.15" y2="505.36" stroke="#222" stroke-width="0.90"/><circle cx="204.90" cy="491.50" r="1.85" fill="#fff" stroke="#222" stroke-width="0.95"/><circle cx="204.90" cy="497.30" r="1.85" fill="#fff" stroke="#222" stroke-width="0.95"/><circle cx="204.90" cy="505.00" r="1.85" fill="#fff" stroke="#222" stroke-width="0.95"/><rect x="228.50" y="451.44" width="21.90" height="59.76" fill="#fff" stroke="#b0b0b0" stroke-width="1.2"/><line x1="239.45" y1="511.20" x2="239.45" y2="514.20" stroke="#2a2a2a" stroke-width="0.90"/><line x1="239.45" y1="444.14" x2="239.45" y2="458.08" stroke="#222" stroke-width="0.90"/><line x1="234.65" y1="444.14" x2="244.25" y2="444.14" stroke="#222" stroke-width="0.90"/><line x1="234.65" y1="458.08" x2="244.25" y2="458.08" stroke="#222" stroke-width="0.90"/><circle cx="239.50" cy="443.80" r="1.6" fill="#111"/><circle cx="235.80" cy="455.30" r="1.6" fill="#111"/><circle cx="242.30" cy="453.50" r="1.6" fill="#111"/><polyline points="204.90,488.00 204.90,433.80 239.50,433.80 239.50,437.30" fill="none" stroke="#222" stroke-width="1.0"/><text x="222.85" y="432.40" font-size="8.5" font-weight="bold" text-anchor="middle" letter-spacing="1.3" fill="#111" stroke="#111" stroke-width="0.7">***</text><text transform="translate(170.40,471.20) rotate(-90)" font-size="6.65" font-weight="bold" text-anchor="middle" fill="#222" stroke="#222" stroke-width="0.12">NOS Activity (mU/mg)</text><text transform="translate(208.20,519.20) rotate(-45)" font-size="7.0" font-weight="bold" text-anchor="end" fill="#222" stroke="#222" stroke-width="0.1">EV</text><text transform="translate(242.50,519.20) rotate(-45)" font-size="7.0" font-weight="bold" text-anchor="end" fill="#222" stroke="#222" stroke-width="0.1">KO</text><text x="218.00" y="538.70" font-size="7.0" text-anchor="middle" fill="#333">A498</text><line x1="182.30" y1="554.10" x2="182.30" y2="633.80" stroke="#2a2a2a" stroke-width="1.10"/><line x1="181.75" y1="633.80" x2="263.00" y2="633.80" stroke="#2a2a2a" stroke-width="1.10"/><line x1="178.90" y1="633.80" x2="182.30" y2="633.80" stroke="#2a2a2a" stroke-width="0.90"/><text x="177.90" y="636.00" font-size="6.2" font-weight="bold" text-anchor="end" fill="#222" stroke="#222" stroke-width="0.15">0</text><line x1="178.90" y1="614.00" x2="182.30" y2="614.00" stroke="#2a2a2a" stroke-width="0.90"/><text x="177.90" y="616.20" font-size="6.2" font-weight="bold" text-anchor="end" fill="#222" stroke="#222" stroke-width="0.15">1</text><line x1="178.90" y1="594.20" x2="182.30" y2="594.20" stroke="#2a2a2a" stroke-width="0.90"/><text x="177.90" y="596.40" font-size="6.2" font-weight="bold" text-anchor="end" fill="#222" stroke="#222" stroke-width="0.15">2</text><line x1="178.90" y1="574.40" x2="182.30" y2="574.40" stroke="#2a2a2a" stroke-width="0.90"/><text x="177.90" y="576.60" font-size="6.2" font-weight="bold" text-anchor="end" fill="#222" stroke="#222" stroke-width="0.15">3</text><line x1="178.90" y1="554.60" x2="182.30" y2="554.60" stroke="#2a2a2a" stroke-width="0.90"/><text x="177.90" y="556.80" font-size="6.2" font-weight="bold" text-anchor="end" fill="#222" stroke="#222" stroke-width="0.15">4</text><rect x="193.80" y="614.00" width="22.70" height="19.80" fill="#fff" stroke="#5aa2e2" stroke-width="1.2"/><line x1="205.15" y1="633.80" x2="205.15" y2="636.80" stroke="#2a2a2a" stroke-width="0.90"/><line x1="205.15" y1="607.27" x2="205.15" y2="621.52" stroke="#222" stroke-width="0.90"/><line x1="200.35" y1="607.27" x2="209.95" y2="607.27" stroke="#222" stroke-width="0.90"/><line x1="200.35" y1="621.52" x2="209.95" y2="621.52" stroke="#222" stroke-width="0.90"/><circle cx="202.60" cy="608.80" r="1.85" fill="#fff" stroke="#222" stroke-width="0.95"/><circle cx="208.20" cy="608.80" r="1.85" fill="#fff" stroke="#222" stroke-width="0.95"/><circle cx="204.90" cy="622.20" r="1.85" fill="#fff" stroke="#222" stroke-width="0.95"/><rect x="228.50" y="571.43" width="21.90" height="62.37" fill="#fff" stroke="#b0b0b0" stroke-width="1.2"/><line x1="239.45" y1="633.80" x2="239.45" y2="636.80" stroke="#2a2a2a" stroke-width="0.90"/><line x1="239.45" y1="563.51" x2="239.45" y2="578.76" stroke="#222" stroke-width="0.90"/><line x1="234.65" y1="563.51" x2="244.25" y2="563.51" stroke="#222" stroke-width="0.90"/><line x1="234.65" y1="578.76" x2="244.25" y2="578.76" stroke="#222" stroke-width="0.90"/><circle cx="239.50" cy="562.70" r="1.6" fill="#111"/><circle cx="235.80" cy="575.40" r="1.6" fill="#111"/><circle cx="242.30" cy="574.20" r="1.6" fill="#111"/><polyline points="204.90,605.40 204.90,552.30 239.50,552.30 239.50,555.80" fill="none" stroke="#222" stroke-width="1.0"/><text x="222.85" y="551.10" font-size="8.5" font-weight="bold" text-anchor="middle" letter-spacing="1.3" fill="#111" stroke="#111" stroke-width="0.7">**</text><text transform="translate(170.40,595.00) rotate(-90)" font-size="6.65" font-weight="bold" text-anchor="middle" fill="#222" stroke="#222" stroke-width="0.12">NOS Activity (mU/mg)</text><text transform="translate(208.20,641.80) rotate(-45)" font-size="6.0" font-weight="bold" text-anchor="end" fill="#222" stroke="#222" stroke-width="0.1">pLKO.1</text><text transform="translate(242.50,641.80) rotate(-45)" font-size="6.6" font-weight="bold" text-anchor="end" fill="#222" stroke="#222" stroke-width="0.1">KD</text><text x="222.70" y="659.80" font-size="7.0" text-anchor="middle" fill="#333">RENCA</text><text x="279.3" y="421.3" font-size="14.2" font-weight="bold" fill="#000" stroke="#000" stroke-width="0.25">F</text><defs><filter id="bl" x="-30%" y="-60%" width="160%" height="220%"><feGaussianBlur stdDeviation="0.6"/></filter><filter id="bl2" x="-30%" y="-60%" width="160%" height="220%"><feGaussianBlur stdDeviation="0.9"/></filter></defs><rect x="318.60" y="458.20" width="36.00" height="11.20" fill="rgb(232,232,232)"/><rect x="320.70" y="461.40" width="14.70" height="2.80" rx="1.40" fill="rgb(25,25,25)" filter="url(#bl)"/><rect x="320.70" y="465.90" width="14.70" height="3.00" rx="1.50" fill="rgb(30,30,30)" filter="url(#bl)"/><rect x="340.00" y="461.65" width="1.60" height="1.50" rx="0.75" fill="rgb(60,60,60)" filter="url(#bl)"/><rect x="318.60" y="458.20" width="36.00" height="11.20" fill="none" stroke="#4a4a4a" stroke-width="0.9"/><rect x="359.80" y="458.20" width="36.40" height="11.20" fill="rgb(236,236,236)"/><rect x="363.20" y="463.05" width="14.00" height="3.50" rx="1.60" fill="rgb(15,15,15)" filter="url(#bl)"/><rect x="359.80" y="458.20" width="36.40" height="11.20" fill="none" stroke="#4a4a4a" stroke-width="0.9"/><text x="314.8" y="466.40" font-size="7.2" font-weight="bold" text-anchor="end" fill="#111" stroke="#111" stroke-width="0.2">Parkin</text><rect x="318.60" y="479.50" width="36.00" height="11.00" fill="rgb(238,238,238)"/><rect x="320.70" y="482.30" width="14.50" height="3.80" rx="1.60" fill="rgb(18,18,18)" filter="url(#bl)"/><rect x="337.00" y="483.15" width="16.00" height="2.90" rx="1.45" fill="rgb(85,85,85)" filter="url(#bl)"/><rect x="318.60" y="479.50" width="36.00" height="11.00" fill="none" stroke="#4a4a4a" stroke-width="0.9"/><rect x="359.80" y="479.50" width="36.40" height="11.00" fill="rgb(238,238,238)"/><rect x="362.00" y="484.25" width="16.00" height="3.50" rx="1.60" fill="rgb(20,20,20)" filter="url(#bl)"/><rect x="379.00" y="485.00" width="14.00" height="2.80" rx="1.40" fill="rgb(40,40,40)" filter="url(#bl)"/><rect x="359.80" y="479.50" width="36.40" height="11.00" fill="none" stroke="#4a4a4a" stroke-width="0.9"/><text x="314.8" y="487.60" font-size="7.2" font-weight="bold" text-anchor="end" fill="#111" stroke="#111" stroke-width="0.2">PTEN</text><rect x="318.60" y="499.60" width="36.00" height="12.20" fill="rgb(212,212,212)"/><rect x="337.90" y="503.35" width="11.60" height="6.50" rx="1.60" fill="rgb(25,25,25)" filter="url(#bl)"/><rect x="318.60" y="499.60" width="36.00" height="12.20" fill="none" stroke="#4a4a4a" stroke-width="0.9"/><rect x="359.80" y="499.60" width="36.40" height="12.20" fill="rgb(234,234,234)"/><rect x="380.40" y="503.95" width="10.80" height="3.30" rx="1.60" fill="rgb(30,30,30)" filter="url(#bl)"/><rect x="359.80" y="499.60" width="36.40" height="12.20" fill="none" stroke="#4a4a4a" stroke-width="0.9"/><text x="314.8" y="508.30" font-size="7.2" font-weight="bold" text-anchor="end" fill="#111" stroke="#111" stroke-width="0.2">pAMPK</text><rect x="318.60" y="520.00" width="36.00" height="12.20" fill="rgb(230,230,230)"/><rect x="323.00" y="524.55" width="12.00" height="3.10" rx="1.55" fill="rgb(25,25,25)" filter="url(#bl)"/><rect x="337.50" y="524.55" width="12.00" height="3.10" rx="1.55" fill="rgb(25,25,25)" filter="url(#bl)"/><rect x="318.60" y="520.00" width="36.00" height="12.20" fill="none" stroke="#4a4a4a" stroke-width="0.9"/><rect x="359.80" y="520.00" width="36.40" height="12.20" fill="rgb(172,172,172)"/><rect x="362.00" y="524.25" width="15.00" height="4.50" rx="1.60" fill="rgb(30,30,30)" filter="url(#bl)"/><rect x="379.50" y="524.25" width="14.00" height="4.50" rx="1.60" fill="rgb(30,30,30)" filter="url(#bl)"/><rect x="359.80" y="520.00" width="36.40" height="12.20" fill="none" stroke="#4a4a4a" stroke-width="0.9"/><text x="314.8" y="528.70" font-size="7.2" font-weight="bold" text-anchor="end" fill="#111" stroke="#111" stroke-width="0.2">AMPK</text><rect x="318.60" y="534.40" width="36.00" height="11.20" fill="rgb(246,246,246)"/><rect x="322.00" y="538.85" width="13.00" height="2.30" rx="1.15" fill="rgb(120,120,120)" filter="url(#bl)"/><rect x="336.00" y="537.95" width="13.50" height="4.10" rx="1.60" fill="rgb(15,15,15)" filter="url(#bl)"/><rect x="318.60" y="534.40" width="36.00" height="11.20" fill="none" stroke="#4a4a4a" stroke-width="0.9"/><rect x="359.80" y="534.40" width="36.40" height="11.20" fill="rgb(208,208,208)"/><rect x="379.00" y="539.45" width="13.00" height="2.10" rx="1.05" fill="rgb(140,140,140)" filter="url(#bl)"/><rect x="389.20" y="535.35" width="1.40" height="1.90" rx="0.95" fill="rgb(10,10,10)" filter="url(#bl)"/><rect x="359.80" y="534.40" width="36.40" height="11.20" fill="none" stroke="#4a4a4a" stroke-width="0.9"/><text x="314.8" y="542.60" font-size="7.2" font-weight="bold" text-anchor="end" fill="#111" stroke="#111" stroke-width="0.2">pAkt</text><rect x="318.60" y="555.50" width="36.00" height="11.50" fill="rgb(232,232,232)"/><rect x="323.00" y="560.20" width="12.00" height="2.80" rx="1.40" fill="rgb(40,40,40)" filter="url(#bl)"/><rect x="337.00" y="560.20" width="13.00" height="2.80" rx="1.40" fill="rgb(40,40,40)" filter="url(#bl)"/><rect x="318.60" y="555.50" width="36.00" height="11.50" fill="none" stroke="#4a4a4a" stroke-width="0.9"/><rect x="359.80" y="555.50" width="36.40" height="11.50" fill="rgb(230,230,230)"/><rect x="364.00" y="560.20" width="13.00" height="2.80" rx="1.40" fill="rgb(30,30,30)" filter="url(#bl)"/><rect x="380.00" y="560.10" width="13.00" height="3.00" rx="1.50" fill="rgb(30,30,30)" filter="url(#bl)"/><rect x="359.80" y="555.50" width="36.40" height="11.50" fill="none" stroke="#4a4a4a" stroke-width="0.9"/><text x="314.8" y="563.85" font-size="7.2" font-weight="bold" text-anchor="end" fill="#111" stroke="#111" stroke-width="0.2">Akt</text><rect x="318.60" y="570.30" width="36.00" height="11.90" fill="rgb(228,228,228)"/><polygon points="323.20,572.25 339.20,575.85 339.20,579.35 323.20,575.75" fill="rgb(20,20,20)" filter="url(#bl)"/><rect x="318.60" y="570.30" width="36.00" height="11.90" fill="none" stroke="#4a4a4a" stroke-width="0.9"/><rect x="359.80" y="570.30" width="36.40" height="11.90" fill="rgb(230,230,230)"/><rect x="362.40" y="574.35" width="13.40" height="4.10" rx="1.60" fill="rgb(15,15,15)" filter="url(#bl)"/><rect x="380.00" y="576.25" width="11.00" height="1.50" rx="0.75" fill="rgb(200,200,200)" filter="url(#bl)"/><rect x="359.80" y="570.30" width="36.40" height="11.90" fill="none" stroke="#4a4a4a" stroke-width="0.9"/><text x="314.8" y="578.85" font-size="7.2" font-weight="bold" text-anchor="end" fill="#111" stroke="#111" stroke-width="0.2">p-GSK3β</text><rect x="318.60" y="593.20" width="36.00" height="11.80" fill="rgb(228,228,228)"/><polygon points="323.00,594.75 336.00,598.55 336.00,602.05 323.00,598.25" fill="rgb(25,25,25)" filter="url(#bl)"/><polygon points="339.00,598.35 352.00,600.15 352.00,603.45 339.00,601.65" fill="rgb(30,30,30)" filter="url(#bl)"/><rect x="318.60" y="593.20" width="36.00" height="11.80" fill="none" stroke="#4a4a4a" stroke-width="0.9"/><rect x="359.80" y="593.20" width="36.40" height="11.80" fill="rgb(224,224,224)"/><rect x="362.00" y="597.55" width="15.50" height="4.50" rx="1.60" fill="rgb(20,20,20)" filter="url(#bl)"/><rect x="380.00" y="597.55" width="14.00" height="4.50" rx="1.60" fill="rgb(20,20,20)" filter="url(#bl)"/><rect x="359.80" y="593.20" width="36.40" height="11.80" fill="none" stroke="#4a4a4a" stroke-width="0.9"/><text x="314.8" y="601.70" font-size="7.2" font-weight="bold" text-anchor="end" fill="#111" stroke="#111" stroke-width="0.2">GSK3β</text><rect x="318.60" y="607.90" width="36.00" height="11.80" fill="rgb(224,224,224)"/><rect x="322.00" y="613.55" width="13.00" height="2.50" rx="1.25" fill="rgb(35,35,35)" filter="url(#bl)"/><rect x="337.00" y="613.55" width="13.00" height="2.50" rx="1.25" fill="rgb(35,35,35)" filter="url(#bl)"/><rect x="318.60" y="607.90" width="36.00" height="11.80" fill="none" stroke="#4a4a4a" stroke-width="0.9"/><rect x="359.80" y="607.90" width="36.40" height="11.80" fill="rgb(222,222,222)"/><rect x="364.00" y="613.55" width="13.00" height="2.50" rx="1.25" fill="rgb(35,35,35)" filter="url(#bl)"/><rect x="380.00" y="613.55" width="13.00" height="2.50" rx="1.25" fill="rgb(35,35,35)" filter="url(#bl)"/><rect x="359.80" y="607.90" width="36.40" height="11.80" fill="none" stroke="#4a4a4a" stroke-width="0.9"/><text x="314.8" y="616.40" font-size="7.2" font-weight="bold" text-anchor="end" fill="#111" stroke="#111" stroke-width="0.2">VCL</text><text x="328.6" y="476.80" font-size="6.3" text-anchor="middle" fill="#111" stroke="#111" stroke-width="0.12">1</text><text x="345.2" y="476.80" font-size="6.3" text-anchor="middle" fill="#111" stroke="#111" stroke-width="0.12">0.22</text><text x="369.0" y="476.80" font-size="6.3" text-anchor="middle" fill="#111" stroke="#111" stroke-width="0.12">1</text><text x="385.8" y="476.80" font-size="6.3" text-anchor="middle" fill="#111" stroke="#111" stroke-width="0.12">0.12</text><text x="328.6" y="497.50" font-size="6.3" text-anchor="middle" fill="#111" stroke="#111" stroke-width="0.12">1</text><text x="345.2" y="497.50" font-size="6.3" text-anchor="middle" fill="#111" stroke="#111" stroke-width="0.12">0.46</text><text x="369.0" y="497.50" font-size="6.3" text-anchor="middle" fill="#111" stroke="#111" stroke-width="0.12">1</text><text x="385.8" y="497.50" font-size="6.3" text-anchor="middle" fill="#111" stroke="#111" stroke-width="0.12">0.8</text><text x="328.6" y="518.40" font-size="6.3" text-anchor="middle" fill="#111" stroke="#111" stroke-width="0.12">1</text><text x="345.2" y="518.40" font-size="6.3" text-anchor="middle" fill="#111" stroke="#111" stroke-width="0.12">3.49</text><text x="369.0" y="518.40" font-size="6.3" text-anchor="middle" fill="#111" stroke="#111" stroke-width="0.12">1</text><text x="385.8" y="518.40" font-size="6.3" text-anchor="middle" fill="#111" stroke="#111" stroke-width="0.12">4.33</text><text x="328.6" y="552.40" font-size="6.3" text-anchor="middle" fill="#111" stroke="#111" stroke-width="0.12">1</text><text x="345.2" y="552.40" font-size="6.3" text-anchor="middle" fill="#111" stroke="#111" stroke-width="0.12">2.8</text><text x="369.0" y="552.40" font-size="6.3" text-anchor="middle" fill="#111" stroke="#111" stroke-width="0.12">1</text><text x="385.8" y="552.40" font-size="6.3" text-anchor="middle" fill="#111" stroke="#111" stroke-width="0.12">7.9</text><text x="328.6" y="590.20" font-size="6.3" text-anchor="middle" fill="#111" stroke="#111" stroke-width="0.12">1</text><text x="345.2" y="590.20" font-size="6.3" text-anchor="middle" fill="#111" stroke="#111" stroke-width="0.12">0.06</text><text x="369.0" y="590.20" font-size="6.3" text-anchor="middle" fill="#111" stroke="#111" stroke-width="0.12">1</text><text x="385.8" y="590.20" font-size="6.3" text-anchor="middle" fill="#111" stroke="#111" stroke-width="0.12">0.15</text><text transform="translate(328.70,453.60) rotate(-45)" font-size="7.2" font-weight="bold" fill="#111" stroke="#111" stroke-width="0.15">EV</text><text transform="translate(344.00,453.50) rotate(-45)" font-size="7.2" font-weight="bold" fill="#111" stroke="#111" stroke-width="0.15">KO</text><text transform="translate(369.60,452.80) rotate(-45)" font-size="7.2" font-weight="bold" fill="#111" stroke="#111" stroke-width="0.15">pLKO.1</text><text transform="translate(385.30,453.20) rotate(-45)" font-size="7.2" font-weight="bold" fill="#111" stroke="#111" stroke-width="0.15">KD</text><text x="336.3" y="629.6" font-size="7.2" text-anchor="middle" fill="#111" stroke="#111" stroke-width="0.15">A498</text><text x="378.0" y="629.6" font-size="7.2" text-anchor="middle" fill="#111" stroke="#111" stroke-width="0.15">RENCA</text></svg></body></html>
